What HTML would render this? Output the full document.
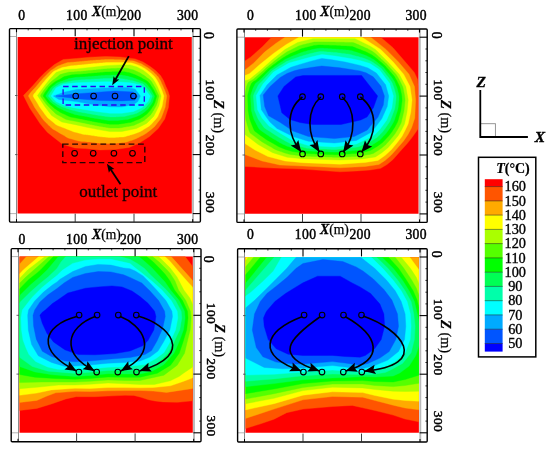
<!DOCTYPE html>
<html lang="en"><head><meta charset="utf-8"><title>Temperature field contours</title>
<style>html,body{margin:0;padding:0;background:#fff}svg{display:block}text{font-family:'Liberation Serif','Times New Roman',Times,serif}</style>
</head><body>
<svg width="550" height="452" viewBox="0 0 550 452">
<rect width="550" height="452" fill="#fff"/>
<g id="panel1">
<clipPath id="clip1"><rect x="17.6" y="37" width="174.2" height="176.4"/></clipPath>
<g clip-path="url(#clip1)" shape-rendering="geometricPrecision">
<rect x="16.6" y="36" width="176.2" height="178.4" fill="#ff0000"/>
<polygon points="23.5,95.5 33,85.5 40,77.6 45.5,72 54.5,64.5 63.3,59.5 76.4,58.5 90,57.2 105.5,56.5 120,57 135.2,58.9 143,62 149.8,66.2 155.5,70.5 160.5,75.5 163.5,80.5 165.8,86.2 168,91 169.5,96.1 168.4,107.5 164.7,119.1 158.2,128.5 149.5,136.5 139.3,143.1 129.1,147.5 114.5,149.6 100,149.9 85.5,148.6 75,148 62.6,144.3 54.5,138 47.3,132.2 40,123.5 29.8,108.1" fill="#ff5500" stroke="#ff5500" stroke-width="0.4"/>
<polygon points="166.7,96 166.5,97.6 166.3,99.2 166.1,100.8 165.9,102.4 165.6,104 165.4,105.6 165.2,107.2 164.6,108.7 164.1,110.2 163.5,111.7 163,113.2 162.4,114.7 161.9,116.1 161.3,117.6 160.5,119 159.5,120.3 158.5,121.5 157.5,122.8 156.6,124 155.6,125.2 154.7,126.4 153.5,127.5 152.3,128.5 151.1,129.5 149.9,130.4 148.7,131.4 147.5,132.3 146.3,133.2 145,134 143.8,134.8 142.5,135.5 141.1,136.1 139.8,136.8 138.6,137.4 137.3,138.1 136,138.7 134.7,139.2 133.4,139.7 132.1,140.2 130.8,140.6 129.5,141.1 128.2,141.6 127,142 125.6,142.3 124.2,142.4 122.9,142.6 121.5,142.7 120.2,142.9 118.9,143 117.6,143.1 116.4,143.3 115.1,143.4 113.8,143.6 112.5,143.6 111.3,143.6 110,143.6 108.7,143.5 107.5,143.5 106.2,143.5 105,143.4 103.8,143.4 102.5,143.4 101.3,143.4 100,143.3 98.8,143.1 97.6,143 96.3,142.9 95.1,142.7 93.8,142.6 92.6,142.4 91.3,142.3 90,142.1 88.7,142 87.4,141.9 86.1,141.7 84.7,141.6 83.3,141.5 81.9,141.4 80.4,141.2 79,141.1 77.6,140.7 76.2,140.3 74.8,139.9 73.4,139.5 71.9,139.1 70.4,138.7 68.9,138.3 67.5,137.7 66.2,136.9 64.9,136.1 63.6,135.3 62.2,134.5 60.8,133.7 59.4,132.9 58,132 56.6,131.2 55.1,130.3 53.5,129.4 52,128.5 50.8,127.3 49.5,126.1 48.3,124.9 47.1,123.6 45.8,122.4 44.5,121.1 43.3,119.7 42.1,118.3 41.1,116.8 40.1,115.2 39,113.7 37.9,112.1 36.8,110.5 35.7,108.9 34.5,107.2 33.6,105.4 32.6,103.6 31.6,101.8 30.6,99.9 29.5,98 28.4,96 29.5,94 31.1,92.1 32.7,90.3 34.3,88.6 35.8,86.9 37.2,85.3 38.5,83.7 39.8,82.1 41.1,80.7 42.3,79.2 43.6,77.8 44.9,76.5 46.2,75.2 47.4,73.9 48.6,72.7 49.9,71.5 51.2,70.3 52.7,69.4 54.2,68.4 55.6,67.5 57,66.6 58.5,65.8 60.2,65.2 61.8,64.6 63.3,64 64.8,63.5 66.3,62.9 67.9,62.6 69.7,62.5 71.3,62.3 72.9,62.2 74.5,62.1 75.9,61.9 77.3,61.8 78.7,61.7 80,61.6 81.3,61.5 82.5,61.3 83.7,61.2 84.9,61.1 86,61 87.1,60.9 88.2,60.8 89.3,60.7 90.3,60.6 91.4,60.5 92.4,60.4 93.4,60.3 94.4,60.3 95.4,60.2 96.4,60.1 97.4,60.1 98.3,60 99.3,60 100.2,59.9 101.2,59.8 102.1,59.8 103.1,59.7 104,59.7 105,59.6 106,59.6 106.9,59.6 107.9,59.6 108.8,59.6 109.8,59.6 110.8,59.6 111.7,59.6 112.7,59.6 113.7,59.6 114.7,59.7 115.8,59.7 116.8,59.7 117.9,59.7 118.9,59.7 120,59.8 121.1,59.8 122.2,59.9 123.3,60 124.5,60.1 125.7,60.2 126.9,60.3 128.1,60.4 129.4,60.5 130.7,60.7 132,60.8 133.4,60.9 134.6,61.3 135.8,61.8 137.1,62.2 138.3,62.7 139.6,63.2 140.9,63.6 142.1,64.3 143.3,65 144.5,65.7 145.7,66.4 147,67.2 148.2,68 149.3,68.8 150.5,69.7 151.7,70.7 152.9,71.6 154,72.6 155.1,73.7 156.2,74.8 157.3,75.9 158.3,77.1 159.1,78.4 159.9,79.7 160.7,81.1 161.3,82.5 161.9,83.9 162.6,85.3 163.2,86.8 163.8,88.3 164.5,89.7 165.1,91.3 165.6,92.8 166.2,94.4" fill="#ffaa00" stroke="#ffaa00" stroke-width="0.4"/>
<polygon points="163.9,96 163.6,97.5 163.4,99.1 163.1,100.6 162.8,102.1 162.6,103.6 162.3,105.1 162,106.6 161.4,108 160.8,109.4 160.2,110.8 159.6,112.2 159,113.6 158.4,114.9 157.9,116.3 157.1,117.6 156.1,118.8 155.1,119.9 154.1,121 153.2,122.1 152.2,123.2 151.2,124.3 150.2,125.3 149,126.2 147.7,127 146.5,127.8 145.2,128.6 144,129.3 142.9,130.1 141.7,130.8 140.4,131.4 139.2,132 137.9,132.5 136.6,133 135.3,133.4 134.1,133.9 132.8,134.3 131.6,134.7 130.3,135 129.1,135.4 127.9,135.7 126.8,136.1 125.6,136.4 124.4,136.8 123.2,136.9 122,137 120.8,137 119.6,137.1 118.4,137.2 117.2,137.3 116.1,137.3 114.9,137.4 113.8,137.5 112.7,137.6 111.6,137.6 110.5,137.6 109.4,137.5 108.3,137.4 107.2,137.3 106.1,137.2 105,137.1 103.9,137 102.9,136.9 101.8,136.8 100.7,136.7 99.7,136.6 98.6,136.4 97.5,136.3 96.5,136.1 95.4,136 94.3,135.8 93.3,135.6 92.2,135.5 91.1,135.3 90,135.1 88.8,135 87.7,134.8 86.6,134.7 85.4,134.5 84.2,134.4 83,134.2 81.8,133.9 80.6,133.6 79.4,133.3 78.2,132.9 76.9,132.6 75.6,132.3 74.3,132 73,131.5 71.8,131 70.5,130.5 69.2,130 67.9,129.4 66.5,128.9 65.1,128.3 63.6,127.8 62.1,127.2 60.5,126.6 58.9,126 57.2,125.3 55.8,124.4 54.6,123.4 53.3,122.3 52,121.3 50.7,120.2 49.3,119.1 47.9,117.9 46.7,116.6 45.7,115.3 44.7,113.9 43.7,112.4 42.6,111 41.5,109.5 40.4,108 39.3,106.4 38.4,104.8 37.4,103.1 36.4,101.4 35.3,99.7 34.2,97.9 33.1,96 33.9,94.1 35.4,92.4 36.7,90.6 38.1,89 39.4,87.4 40.7,85.8 41.9,84.3 43.1,82.8 44.3,81.4 45.4,80 46.6,78.7 47.8,77.4 49,76.2 50.1,74.9 51.3,73.7 52.4,72.6 53.6,71.5 55.2,70.6 56.9,69.9 58.5,69.1 60,68.4 61.5,67.8 63.3,67.3 65.1,67 66.8,66.7 68.4,66.3 69.9,66 71.5,65.8 73.1,65.7 74.5,65.5 76,65.4 77.3,65.3 78.7,65.1 79.9,65 81.1,64.9 82.3,64.8 83.5,64.7 84.6,64.6 85.7,64.4 86.7,64.3 87.7,64.2 88.8,64.1 89.7,64 90.7,63.9 91.7,63.8 92.6,63.7 93.5,63.6 94.5,63.6 95.4,63.5 96.3,63.4 97.2,63.3 98,63.3 98.9,63.2 99.8,63.1 100.7,63 101.5,63 102.4,62.9 103.3,62.8 104.1,62.8 105,62.7 105.9,62.6 106.7,62.6 107.6,62.6 108.5,62.6 109.4,62.6 110.3,62.5 111.2,62.5 112.1,62.5 113,62.5 114,62.5 114.9,62.4 115.9,62.4 116.9,62.4 117.9,62.4 118.9,62.4 120,62.4 121,62.4 122.1,62.5 123.2,62.5 124.3,62.6 125.5,62.6 126.6,62.7 127.9,62.7 129.1,62.8 130.4,62.8 131.8,62.9 132.9,63.3 134.1,63.7 135.3,64.1 136.5,64.5 137.8,64.9 139,65.4 140.2,66 141.3,66.6 142.5,67.2 143.7,67.9 144.9,68.6 146,69.4 147.1,70.2 148.2,71.1 149.3,71.9 150.5,72.8 151.5,73.8 152.6,74.8 153.7,75.8 154.8,76.9 155.6,78.1 156.4,79.3 157.2,80.5 157.9,81.8 158.6,83.1 159.2,84.5 159.9,85.8 160.5,87.2 161.1,88.6 161.7,90 162.3,91.5 162.8,93 163.3,94.5" fill="#ffff00" stroke="#ffff00" stroke-width="0.4"/>
<polygon points="37.5,95.5 42.5,88.5 48.7,80.5 56,72.5 64.7,69.6 76.4,68.9 105.5,65.7 120,64.9 129.9,64.9 137,67 143.2,70.2 148,74 152.5,78.2 155.5,83 157.8,87.5 161.1,96.1 158.9,106 153.8,116.2 146.5,123.5 136.4,128.5 121.8,131.5 110,131.6 98.2,129.6 87,127.3 76.4,124.9 61.8,122 51.6,115.5 44.4,106" fill="#aaff00" stroke="#aaff00" stroke-width="0.4"/>
<polygon points="158.9,96 158.6,97.4 158.2,98.8 157.9,100.2 157.6,101.5 157.2,102.9 156.8,104.2 156.3,105.5 155.6,106.8 154.9,108 154.2,109.2 153.6,110.4 152.8,111.5 152.1,112.7 151.3,113.8 150.6,114.9 149.5,115.8 148.5,116.7 147.5,117.6 146.5,118.5 145.4,119.3 144.4,120.2 143.4,120.9 142.2,121.6 141,122.1 139.8,122.7 138.6,123.2 137.4,123.7 136.3,124.2 135.2,124.7 134.2,125.2 133,125.5 131.8,125.8 130.6,126 129.4,126.2 128.3,126.4 127.2,126.6 126.1,126.8 125.1,127 124.1,127.1 123.1,127.3 122.1,127.5 121.1,127.7 120.2,127.8 119.2,127.9 118.2,127.9 117.2,127.9 116.3,127.9 115.4,127.9 114.4,127.9 113.5,127.9 112.7,127.9 111.8,127.9 110.9,127.9 110,127.9 109.2,127.8 108.3,127.7 107.5,127.5 106.6,127.4 105.8,127.3 105,127.1 104.2,127 103.4,126.9 102.6,126.7 101.8,126.6 101,126.5 100.2,126.3 99.4,126.2 98.6,126.1 97.8,125.9 97,125.8 96.2,125.6 95.4,125.4 94.6,125.3 93.8,125.1 93,125 92.2,124.8 91.3,124.6 90.5,124.5 89.6,124.3 88.8,124.1 87.9,123.9 87,123.7 86.1,123.5 85.1,123.3 84.2,123.1 83.2,122.9 82.2,122.7 81.2,122.5 80.1,122.2 79,122 77.8,121.8 76.6,121.5 75.4,121.3 74.1,121 72.7,120.8 71.3,120.5 69.8,120.2 68.2,119.9 66.5,119.6 65.2,119 63.9,118.3 62.6,117.6 61.3,116.8 59.9,116.1 58.4,115.3 56.9,114.5 55.5,113.5 54.4,112.4 53.3,111.3 52.1,110.2 50.8,109 49.6,107.8 48.4,106.5 47.2,105.2 46,103.8 44.9,102.3 43.8,100.8 42.7,99.3 41.6,97.7 40.5,96 41.1,94.3 42.2,92.7 43.3,91.1 44.4,89.6 45.4,88.2 46.5,86.7 47.7,85.4 49,84.1 50.1,82.8 51.3,81.6 52.6,80.5 54,79.4 55.3,78.4 56.6,77.4 57.8,76.5 59,75.5 60.1,74.6 61.9,74.1 63.7,73.6 65.3,73.1 66.9,72.7 68.4,72.2 70.2,72.1 71.9,72 73.6,71.9 75.1,71.8 76.6,71.7 77.9,71.6 79.2,71.6 80.4,71.4 81.6,71.3 82.7,71.2 83.7,71.1 84.8,71 85.7,70.9 86.7,70.8 87.6,70.7 88.5,70.6 89.4,70.5 90.2,70.4 91.1,70.4 91.9,70.3 92.7,70.2 93.5,70.1 94.2,70 95,70 95.8,69.9 96.5,69.8 97.2,69.7 97.9,69.7 98.7,69.6 99.4,69.5 100.1,69.4 100.8,69.4 101.5,69.3 102.2,69.2 102.9,69.2 103.6,69.1 104.3,69 105,68.9 105.7,68.9 106.4,68.9 107.1,68.8 107.9,68.8 108.6,68.8 109.3,68.7 110.1,68.7 110.8,68.6 111.6,68.6 112.3,68.6 113.1,68.5 113.9,68.5 114.8,68.5 115.6,68.4 116.4,68.4 117.3,68.3 118.2,68.3 119.1,68.3 120,68.3 121,68.3 122,68.3 123,68.3 124,68.3 125.1,68.3 126.3,68.3 127.4,68.4 128.4,68.6 129.4,68.9 130.5,69.2 131.6,69.4 132.7,69.7 133.8,70.1 134.8,70.5 135.9,71 137,71.5 138.1,72 139.2,72.5 140.3,73.1 141.3,73.8 142.4,74.4 143.5,75.1 144.6,75.8 145.6,76.6 146.7,77.4 147.8,78.3 149,79.1 150,80.1 151,81.1 151.8,82.1 152.5,83.3 153.3,84.4 153.9,85.6 154.6,86.8 155.3,88 155.9,89.3 156.5,90.6 157.1,91.9 157.7,93.2 158.3,94.6" fill="#55ff00" stroke="#55ff00" stroke-width="0.4"/>
<polygon points="156.7,96 156.4,97.3 156,98.7 155.6,100 155.3,101.3 154.9,102.6 154.3,103.8 153.8,105 153,106.2 152.2,107.3 151.5,108.5 150.8,109.6 150,110.6 149.1,111.6 148.2,112.6 147.4,113.5 146.3,114.4 145.2,115.2 144.2,116 143.2,116.8 142.1,117.4 141,118.1 140,118.7 138.8,119.3 137.6,119.7 136.5,120.1 135.3,120.6 134.3,121 133.2,121.4 132.2,121.8 131.2,122.2 130.1,122.5 129,122.6 127.9,122.8 126.8,123 125.8,123.1 124.8,123.3 123.8,123.4 122.9,123.5 122,123.7 121.1,123.8 120.2,123.9 119.3,124.1 118.5,124.2 117.6,124.2 116.7,124.2 115.8,124.2 115,124.2 114.2,124.2 113.4,124.3 112.6,124.2 111.8,124.2 111,124.2 110.2,124.2 109.5,124.2 108.7,124.1 107.9,124 107.2,123.9 106.5,123.7 105.7,123.6 105,123.5 104.3,123.4 103.6,123.3 102.9,123.2 102.2,123.1 101.5,123 100.7,122.8 100,122.7 99.3,122.6 98.6,122.5 97.9,122.3 97.2,122.2 96.5,122.1 95.8,122 95.1,121.8 94.4,121.7 93.6,121.5 92.9,121.4 92.1,121.3 91.4,121.1 90.6,121 89.8,120.8 89,120.6 88.2,120.5 87.4,120.3 86.5,120.1 85.6,119.9 84.7,119.7 83.8,119.5 82.9,119.3 81.9,119.1 80.8,118.9 79.8,118.7 78.6,118.5 77.5,118.3 76.2,118.1 75,117.8 73.6,117.6 72.2,117.3 70.7,117 69.4,116.5 68.2,116 67,115.4 65.6,114.8 64.2,114.1 62.8,113.5 61.3,112.8 59.8,112 58.6,111.1 57.2,110.2 55.8,109.2 54.3,108.2 53,107.1 51.7,105.9 50.3,104.7 48.9,103.4 47.6,102 46.5,100.6 45.4,99.1 44.3,97.6 43.1,96 43.8,94.4 44.8,92.8 45.9,91.3 46.9,89.9 47.9,88.5 48.9,87.1 50.2,85.8 51.6,84.6 52.8,83.5 54.1,82.4 55.6,81.4 57.3,80.5 58.9,79.7 60.4,78.9 61.8,78.1 63.1,77.3 64.4,76.6 66.1,76.2 67.8,75.8 69.4,75.5 70.9,75.1 72.3,74.8 73.9,74.7 75.5,74.6 77,74.5 78.4,74.4 79.7,74.4 80.9,74.3 82.1,74.2 83.1,74.1 84.2,74 85.1,73.9 86.1,73.9 87,73.8 87.9,73.7 88.7,73.6 89.6,73.5 90.4,73.5 91.2,73.4 91.9,73.3 92.7,73.3 93.4,73.2 94.1,73.1 94.8,73.1 95.5,73 96.2,72.9 96.8,72.9 97.5,72.8 98.1,72.8 98.8,72.7 99.4,72.7 100,72.6 100.7,72.5 101.3,72.5 101.9,72.4 102.5,72.4 103.1,72.3 103.8,72.3 104.4,72.2 105,72.1 105.6,72.1 106.3,72.1 106.9,72 107.5,72 108.2,72 108.8,72 109.5,71.9 110.1,71.9 110.8,71.9 111.5,71.9 112.2,71.8 112.9,71.8 113.6,71.8 114.3,71.8 115.1,71.7 115.8,71.7 116.6,71.7 117.4,71.7 118.2,71.7 119,71.7 119.9,71.7 120.8,71.7 121.7,71.7 122.7,71.7 123.6,71.7 124.6,71.8 125.5,72 126.5,72.2 127.4,72.4 128.4,72.6 129.4,72.8 130.5,73.1 131.4,73.4 132.4,73.8 133.5,74.2 134.5,74.6 135.6,75 136.7,75.4 137.7,76 138.8,76.5 139.9,77 141.1,77.6 142.2,78.3 143.3,78.9 144.5,79.6 145.8,80.3 147,81.1 148.2,82 149.1,82.9 149.9,84 150.6,85.1 151.3,86.2 152.1,87.3 152.8,88.4 153.5,89.6 154.1,90.8 154.7,92.1 155.4,93.4 156,94.7" fill="#00ff00" stroke="#00ff00" stroke-width="0.4"/>
<polygon points="154.5,96 154.2,97.3 153.8,98.6 153.4,99.8 153,101 152.6,102.3 151.9,103.4 151.2,104.6 150.4,105.6 149.6,106.7 148.8,107.7 148.1,108.8 147.1,109.7 146.1,110.6 145.1,111.4 144.2,112.2 143.1,112.9 142,113.7 141,114.3 140,115 138.8,115.5 137.7,116 136.6,116.5 135.4,116.9 134.3,117.3 133.2,117.6 132.1,118 131.1,118.3 130.1,118.6 129.1,118.9 128.2,119.2 127.2,119.4 126.2,119.5 125.2,119.6 124.2,119.7 123.3,119.8 122.4,119.9 121.5,120 120.7,120.1 119.8,120.2 119,120.3 118.2,120.4 117.5,120.5 116.7,120.6 115.9,120.6 115.2,120.6 114.4,120.6 113.7,120.6 113,120.6 112.3,120.6 111.6,120.6 110.9,120.5 110.2,120.5 109.5,120.5 108.9,120.4 108.2,120.4 107.6,120.3 106.9,120.2 106.3,120.1 105.6,120 105,119.9 104.4,119.8 103.8,119.7 103.1,119.6 102.5,119.5 101.9,119.4 101.3,119.3 100.7,119.2 100.1,119.1 99.5,119 98.9,118.9 98.2,118.8 97.6,118.7 97,118.6 96.4,118.5 95.7,118.4 95.1,118.3 94.4,118.2 93.8,118 93.1,117.9 92.4,117.8 91.7,117.7 91,117.5 90.3,117.4 89.6,117.2 88.8,117.1 88.1,116.9 87.3,116.8 86.4,116.6 85.6,116.4 84.7,116.3 83.8,116.1 82.9,115.9 81.9,115.8 80.8,115.6 79.8,115.4 78.6,115.2 77.4,114.9 76.2,114.7 74.9,114.5 73.7,114.1 72.5,113.6 71.3,113.2 70,112.7 68.6,112.2 67.1,111.7 65.6,111.1 64.1,110.5 62.7,109.7 61.2,109 59.5,108.2 57.7,107.3 56.3,106.3 54.9,105.3 53.3,104.2 51.7,103 50.2,101.8 49.2,100.4 48.1,99 46.9,97.5 45.7,96 46.5,94.5 47.5,93 48.4,91.5 49.4,90.2 50.3,88.8 51.2,87.5 52.7,86.3 54.2,85.2 55.6,84.1 56.9,83.1 58.6,82.3 60.6,81.6 62.5,80.9 64.2,80.3 65.7,79.7 67.2,79.2 68.6,78.6 70.3,78.3 72,78.1 73.5,77.8 74.9,77.6 76.3,77.3 77.7,77.2 79.1,77.2 80.4,77.1 81.6,77 82.7,77 83.8,76.9 84.9,76.9 85.8,76.8 86.7,76.7 87.6,76.7 88.4,76.6 89.3,76.6 90,76.5 90.8,76.4 91.5,76.4 92.2,76.3 92.9,76.3 93.6,76.2 94.2,76.2 94.9,76.1 95.5,76.1 96.1,76 96.7,76 97.3,75.9 97.9,75.9 98.5,75.8 99,75.8 99.6,75.8 100.1,75.7 100.7,75.7 101.2,75.6 101.8,75.6 102.3,75.5 102.8,75.5 103.4,75.5 103.9,75.4 104.5,75.4 105,75.3 105.5,75.3 106.1,75.3 106.6,75.3 107.2,75.3 107.7,75.2 108.3,75.2 108.9,75.2 109.4,75.2 110,75.2 110.6,75.2 111.2,75.2 111.8,75.1 112.4,75.1 113,75.1 113.7,75.1 114.3,75.1 115,75.1 115.7,75.1 116.4,75.1 117.1,75.1 117.8,75.1 118.6,75.1 119.4,75.1 120.2,75.1 121,75.1 121.9,75.1 122.7,75.3 123.5,75.4 124.4,75.6 125.3,75.7 126.2,75.9 127.2,76.1 128.1,76.3 129,76.6 129.9,76.9 131,77.1 132,77.4 133.1,77.8 134.1,78.2 135.2,78.5 136.4,78.9 137.6,79.4 138.8,79.9 140,80.4 141.3,81 142.6,81.6 144,82.2 145.4,82.9 146.4,83.7 147.2,84.7 148,85.7 148.7,86.7 149.5,87.7 150.3,88.8 151.1,89.9 151.7,91.1 152.4,92.3 153.1,93.5 153.8,94.7" fill="#00ff55" stroke="#00ff55" stroke-width="0.4"/>
<polygon points="152.3,96 152,97.2 151.5,98.4 151.1,99.6 150.7,100.8 150.3,102 149.4,103 148.6,104.1 147.7,105.1 146.9,106.1 146.1,107 145.3,107.9 144.3,108.8 143.1,109.5 142,110.2 140.9,110.9 139.8,111.5 138.8,112.1 137.7,112.7 136.8,113.2 135.5,113.6 134.3,114 133.2,114.3 132,114.6 130.9,114.8 129.9,115.1 128.9,115.3 127.9,115.6 127,115.8 126.1,116 125.2,116.2 124.3,116.4 123.4,116.4 122.5,116.5 121.6,116.5 120.8,116.6 120,116.6 119.2,116.7 118.5,116.7 117.7,116.8 117,116.8 116.3,116.8 115.6,116.9 115,116.9 114.3,116.9 113.7,116.9 113,116.9 112.4,116.9 111.8,116.9 111.2,117 110.6,116.9 110,116.9 109.4,116.8 108.8,116.8 108.3,116.7 107.7,116.7 107.2,116.6 106.6,116.5 106.1,116.4 105.5,116.4 105,116.3 104.5,116.2 103.9,116.1 103.4,116.1 102.9,116 102.4,115.9 101.9,115.8 101.3,115.8 100.8,115.7 100.3,115.6 99.8,115.5 99.2,115.4 98.7,115.4 98.2,115.3 97.6,115.2 97.1,115.1 96.5,115 96,114.9 95.4,114.8 94.8,114.7 94.2,114.6 93.7,114.5 93,114.4 92.4,114.3 91.8,114.2 91.1,114.1 90.5,113.9 89.8,113.8 89.1,113.7 88.3,113.5 87.6,113.4 86.8,113.3 86,113.1 85.1,113 84.2,112.8 83.3,112.7 82.3,112.5 81.3,112.3 80.2,112.1 79,111.9 77.9,111.6 76.8,111.3 75.6,111 74.3,110.6 72.9,110.3 71.5,109.9 70,109.4 68.4,108.9 66.9,108.4 65.1,107.8 63.3,107.2 61.2,106.5 59.7,105.6 58.1,104.7 56.4,103.7 54.6,102.6 52.9,101.5 51.9,100.2 50.7,98.8 49.6,97.5 48.4,96 49.2,94.5 50.1,93.1 51,91.8 51.9,90.4 52.7,89.1 53.6,87.9 55.2,86.8 56.8,85.7 58.3,84.8 59.7,83.9 61.6,83.2 64,82.7 66.1,82.2 68,81.8 69.7,81.4 71.3,81 72.8,80.7 74.5,80.5 76.1,80.3 77.6,80.2 78.9,80 80.2,79.9 81.5,79.8 82.7,79.8 83.8,79.7 84.8,79.7 85.8,79.6 86.8,79.6 87.7,79.6 88.5,79.5 89.3,79.5 90.1,79.4 90.8,79.4 91.5,79.3 92.2,79.3 92.8,79.3 93.5,79.2 94.1,79.2 94.7,79.1 95.2,79.1 95.8,79.1 96.4,79 96.9,79 97.4,79 97.9,78.9 98.4,78.9 98.9,78.9 99.4,78.9 99.9,78.8 100.4,78.8 100.9,78.8 101.3,78.7 101.8,78.7 102.3,78.7 102.7,78.7 103.2,78.6 103.6,78.6 104.1,78.6 104.5,78.6 105,78.5 105.5,78.5 105.9,78.5 106.4,78.5 106.8,78.5 107.3,78.5 107.8,78.5 108.2,78.5 108.7,78.5 109.2,78.5 109.7,78.5 110.2,78.5 110.7,78.5 111.2,78.5 111.7,78.5 112.3,78.5 112.8,78.4 113.4,78.4 113.9,78.5 114.5,78.5 115.1,78.5 115.7,78.5 116.4,78.5 117,78.5 117.7,78.5 118.4,78.5 119.1,78.5 119.9,78.6 120.6,78.7 121.4,78.8 122.2,78.8 123,78.9 123.8,79 124.7,79.2 125.5,79.4 126.4,79.5 127.4,79.7 128.4,79.9 129.4,80.1 130.5,80.4 131.7,80.6 132.9,80.8 134.1,81.2 135.3,81.5 136.6,81.9 138,82.3 139.4,82.8 141,83.3 142.6,83.8 143.7,84.5 144.5,85.4 145.3,86.3 146.1,87.3 147,88.2 147.8,89.2 148.6,90.3 149.3,91.3 150,92.5 150.8,93.6 151.5,94.8" fill="#00ffaa" stroke="#00ffaa" stroke-width="0.4"/>
<polygon points="51,96 56,88.1 63.3,84.2 76.4,82.7 105.5,81.7 120,82 129.9,82.8 140.5,84.8 145.9,90.2 150.2,96.1 148,101.6 142.2,107.5 133.5,111.5 121.8,113.3 110,113.3 98.2,111.8 87,110 76.4,108.2 64.7,105.7 56,101.6" fill="#00ffff" stroke="#00ffff" stroke-width="0.4"/>
<polygon points="53.4,96 65,92 76.4,89.5 105,88 125,87.4 135,89 140.4,96.1 137.8,101.6 133.5,104.5 121.8,106.9 110,106.8 98.2,105.3 87,103.5 76.4,101.6 58.9,99.5" fill="#00aaff" stroke="#00aaff" stroke-width="0.4"/>
<polygon points="56,96 75,94 95,92.4 115,91 133,92 137.5,96.1 134.9,100.2 121.8,100.9 100,100.5 76.4,98.7" fill="#0055ff" stroke="#0055ff" stroke-width="0.4"/>
</g>
<line x1="16.5" y1="28.6" x2="16.5" y2="222.1" stroke="#8a8a8a" stroke-width="1.0"/>
<line x1="193" y1="28.6" x2="193" y2="222.1" stroke="#b9b9b9" stroke-width="1.9"/>
<line x1="9.5" y1="36.5" x2="16.5" y2="36.5" stroke="#a0a0a0" stroke-width="0.8"/>
<line x1="9.5" y1="213.6" x2="16.5" y2="213.6" stroke="#a0a0a0" stroke-width="0.8"/>
<rect x="9.5" y="28.6" width="190.9" height="193.5" fill="none" stroke="#000" stroke-width="1.4" rx="1"/>
<line x1="16.5" y1="28.6" x2="16.5" y2="32.2" stroke="#000" stroke-width="1.1"/>
<line x1="16.5" y1="222.1" x2="16.5" y2="219.1" stroke="#000" stroke-width="1.0"/>
<line x1="200.4" y1="36.5" x2="192.8" y2="36.5" stroke="#000" stroke-width="1.1"/>
<line x1="28.2" y1="28.6" x2="28.2" y2="30.4" stroke="#000" stroke-width="0.8"/>
<line x1="200.4" y1="48.3" x2="198.6" y2="48.3" stroke="#000" stroke-width="0.8"/>
<line x1="40" y1="28.6" x2="40" y2="30.4" stroke="#000" stroke-width="0.8"/>
<line x1="200.4" y1="60.1" x2="198.6" y2="60.1" stroke="#000" stroke-width="0.8"/>
<line x1="51.7" y1="28.6" x2="51.7" y2="30.4" stroke="#000" stroke-width="0.8"/>
<line x1="200.4" y1="71.9" x2="198.6" y2="71.9" stroke="#000" stroke-width="0.8"/>
<line x1="63.5" y1="28.6" x2="63.5" y2="30.4" stroke="#000" stroke-width="0.8"/>
<line x1="200.4" y1="83.7" x2="198.6" y2="83.7" stroke="#000" stroke-width="0.8"/>
<line x1="75.2" y1="28.6" x2="75.2" y2="36.2" stroke="#000" stroke-width="1.1"/>
<line x1="75.2" y1="222.1" x2="75.2" y2="213.7" stroke="#2a2a2a" stroke-width="0.9"/>
<line x1="200.4" y1="95.5" x2="192.8" y2="95.5" stroke="#000" stroke-width="1.1"/>
<line x1="15" y1="95.5" x2="17.5" y2="95.5" stroke="#444" stroke-width="0.8"/>
<line x1="87" y1="28.6" x2="87" y2="30.4" stroke="#000" stroke-width="0.8"/>
<line x1="200.4" y1="107.3" x2="198.6" y2="107.3" stroke="#000" stroke-width="0.8"/>
<line x1="98.7" y1="28.6" x2="98.7" y2="30.4" stroke="#000" stroke-width="0.8"/>
<line x1="200.4" y1="119.1" x2="198.6" y2="119.1" stroke="#000" stroke-width="0.8"/>
<line x1="110.5" y1="28.6" x2="110.5" y2="30.4" stroke="#000" stroke-width="0.8"/>
<line x1="200.4" y1="131" x2="198.6" y2="131" stroke="#000" stroke-width="0.8"/>
<line x1="122.2" y1="28.6" x2="122.2" y2="30.4" stroke="#000" stroke-width="0.8"/>
<line x1="200.4" y1="142.8" x2="198.6" y2="142.8" stroke="#000" stroke-width="0.8"/>
<line x1="134" y1="28.6" x2="134" y2="36.2" stroke="#000" stroke-width="1.1"/>
<line x1="134" y1="222.1" x2="134" y2="213.7" stroke="#2a2a2a" stroke-width="0.9"/>
<line x1="200.4" y1="154.6" x2="192.8" y2="154.6" stroke="#000" stroke-width="1.1"/>
<line x1="15" y1="154.6" x2="17.5" y2="154.6" stroke="#444" stroke-width="0.8"/>
<line x1="145.7" y1="28.6" x2="145.7" y2="30.4" stroke="#000" stroke-width="0.8"/>
<line x1="200.4" y1="166.4" x2="198.6" y2="166.4" stroke="#000" stroke-width="0.8"/>
<line x1="157.5" y1="28.6" x2="157.5" y2="30.4" stroke="#000" stroke-width="0.8"/>
<line x1="200.4" y1="178.2" x2="198.6" y2="178.2" stroke="#000" stroke-width="0.8"/>
<line x1="169.2" y1="28.6" x2="169.2" y2="30.4" stroke="#000" stroke-width="0.8"/>
<line x1="200.4" y1="190" x2="198.6" y2="190" stroke="#000" stroke-width="0.8"/>
<line x1="181" y1="28.6" x2="181" y2="30.4" stroke="#000" stroke-width="0.8"/>
<line x1="200.4" y1="201.8" x2="198.6" y2="201.8" stroke="#000" stroke-width="0.8"/>
<line x1="192.7" y1="28.6" x2="192.7" y2="32.2" stroke="#000" stroke-width="1.1"/>
<line x1="192.7" y1="222.1" x2="192.7" y2="219.1" stroke="#000" stroke-width="1.0"/>
<line x1="200.4" y1="213.6" x2="192.8" y2="213.6" stroke="#000" stroke-width="1.1"/>
</g>
<g id="panel2">
<clipPath id="clip2"><rect x="245" y="37.2" width="173.6" height="176.5"/></clipPath>
<g clip-path="url(#clip2)" shape-rendering="geometricPrecision">
<rect x="244" y="36.2" width="175.6" height="178.5" fill="#ff0000"/>
<polygon points="232,96 236,75 245,61 250.6,57.2 262.1,47 271.6,37.2 290,27 330,22 365,27 380.7,37.2 393,47.7 403.6,60 409,66.2 414.3,72.4 417.6,79.5 418.2,87 418.2,110 418,129 412,137.5 407.2,143.6 400,151.5 393,159.5 387,164.5 380.7,168.3 370,170 357.3,170.9 340,171.8 302.7,169.1 267.3,167.8 245,166.4 232,160 230,130" fill="#ff5500" stroke="#ff5500" stroke-width="0.4"/>
<polygon points="236,96 238,80 245,69.9 253.2,63.5 264.6,52.1 276.1,43.2 285,37.2 300,30 330,27 355,30 370.8,37.2 386,49.4 398.3,61.8 409,74.2 414.5,86.6 415.6,100 414.8,118 411.6,127.7 408,134.5 403.6,140.9 397.5,148 391.3,155.1 385,160.5 378.9,164.5 365,166.5 340,167.8 302.7,166 280,165 262,161 245,154.5 236,135" fill="#ffaa00" stroke="#ffaa00" stroke-width="0.4"/>
<polygon points="239,96 241,84 245,75.6 249.4,73.7 259.5,64.8 273.5,53.4 286.3,44.5 299,37.2 310,33 330,31 350,33 361.9,37.2 380.7,49.4 393,61.8 403.6,74.2 410,86.6 412,100 410.8,112 408.1,124.1 405,130.5 401.9,136.5 396.5,143.5 391.3,149.8 385,155.5 378,160.4 365,162.5 340,164.2 302.7,162.7 285,161 268,156.5 255,150 245,143.6 239,125" fill="#ffff00" stroke="#ffff00" stroke-width="0.4"/>
<polygon points="242,96 243,86 245,80.7 249.4,79.5 259.5,71.2 272.3,59.7 285,49.5 297.7,42.5 313,38.7 355,38.7 369.8,45.9 375.4,49.4 387.7,61.8 399.2,74.2 405.8,86.6 408.2,100 407,112 404.5,124.1 401.5,130 398.3,135.6 393,142 387.7,148 381.5,153 375.4,156.9 362,159 340,160 302.7,158.7 287.3,157.3 272.7,152.7 258.2,144.5 245,134.5 242,120" fill="#aaff00" stroke="#aaff00" stroke-width="0.4"/>
<polygon points="405.1,100 404.9,102 404.7,103.9 404.5,105.9 404.3,107.8 404.1,109.8 403.8,111.7 403.3,113.6 402.9,115.5 402.4,117.4 401.9,119.3 401.5,121.2 401,123.1 400.1,124.8 399.2,126.6 398.3,128.3 397.3,130 396.3,131.6 395.3,133.3 394.2,134.8 393,136.3 391.7,137.8 390.5,139.3 389.2,140.7 388,142.1 386.7,143.5 385.4,144.9 384,146.1 382.5,147.3 381,148.4 379.5,149.5 378,150.6 376.4,151.5 374.8,152.5 373.3,153.4 371.4,154 369.5,154.4 367.6,154.7 365.8,155.1 364,155.5 362.2,155.8 360.4,156.1 358.6,156.2 356.8,156.3 355.1,156.4 353.4,156.5 351.7,156.6 350.1,156.7 348.4,156.8 346.8,156.9 345.3,157 343.7,157.1 342.1,157.2 340.6,157.2 339.1,157.3 337.5,157.3 336,157.3 334.5,157.2 333,157.2 331.5,157.1 330,157.1 328.5,157 327,157 325.5,156.9 324,156.8 322.5,156.8 321,156.7 319.5,156.7 318,156.6 316.4,156.6 314.9,156.5 313.3,156.4 311.7,156.4 310.1,156.3 308.4,156.3 306.7,156.2 305,156.1 303.3,156 301.6,155.8 299.8,155.6 298,155.4 296.2,155.2 294.3,154.9 292.4,154.7 290.4,154.4 288.5,154 286.7,153.5 284.8,152.9 282.9,152.3 281,151.6 279.1,150.9 277.1,150.2 275.2,149.4 273.4,148.4 271.6,147.3 269.7,146.3 267.8,145.2 265.9,144.1 263.9,142.9 261.9,141.7 260.1,140.4 258.2,139 256.2,137.6 254.3,136.1 252.2,134.6 250.2,133.1 249.2,131 248.5,128.8 247.9,126.7 247.2,124.5 246.6,122.3 246,120.2 245.7,117.9 245.5,115.7 245.3,113.4 245.1,111.2 245.1,108.9 245,106.7 245,104.5 245,102.2 244.9,100 244.9,97.8 244.9,95.5 245.2,93.3 245.6,91.1 246,88.9 246.4,86.8 247.2,84.7 248.1,82.6 250.3,80.9 253.2,79.4 255.1,77.8 256.9,76.2 258.6,74.7 260.3,73.3 262,71.8 263.5,70.4 265,69 266.5,67.6 268,66.4 269.6,65.1 271,63.9 272.5,62.7 273.9,61.5 275.4,60.3 276.8,59.2 278.3,58.1 279.7,57 281.1,56 282.6,55 284,54 285.4,53 286.8,52 288.3,51.2 289.9,50.5 291.4,49.7 292.9,48.9 294.4,48.2 295.9,47.5 297.3,46.7 298.8,46 300.4,45.4 302,45 303.6,44.6 305.2,44.2 306.7,43.8 308.3,43.4 309.8,43.1 311.4,42.7 312.9,42.3 314.5,42 316.1,42 317.7,41.9 319.2,41.9 320.8,41.9 322.4,41.9 323.9,41.9 325.4,42 327,42 328.5,42 330,42 331.5,42.1 333,42.1 334.6,42.1 336.1,42.2 337.6,42.2 339.2,42.2 340.7,42.3 342.3,42.3 343.8,42.3 345.4,42.4 347.1,42.4 348.7,42.5 350.4,42.5 352.1,42.5 353.7,42.7 355.2,43.3 356.7,44 358.2,44.6 359.7,45.3 361.2,46 362.7,46.6 364.2,47.3 365.8,48 367.3,48.6 368.8,49.4 370.3,50.2 371.8,51.1 373.3,52 374.6,53 375.9,54.1 377.2,55.2 378.5,56.4 379.7,57.5 381,58.7 382.2,59.9 383.5,61.1 384.8,62.3 386.1,63.6 387.4,64.8 388.6,66.2 389.8,67.5 391,68.9 392.3,70.3 393.5,71.7 394.8,73.1 396.1,74.6 397.2,76.2 398.2,77.9 399.1,79.5 400,81.2 400.9,83 401.7,84.8 402.6,86.5 403.2,88.4 403.5,90.3 403.9,92.2 404.3,94.2 404.6,96.1 404.9,98" fill="#55ff00" stroke="#55ff00" stroke-width="0.4"/>
<polygon points="402.1,100 401.9,101.9 401.6,103.8 401.4,105.6 401.2,107.5 401,109.3 400.6,111.2 400.1,113 399.6,114.8 399.1,116.6 398.6,118.4 398.1,120.2 397.5,121.9 396.7,123.6 395.8,125.3 394.9,126.9 393.9,128.5 392.9,130 392,131.6 390.9,133.1 389.8,134.5 388.6,135.9 387.4,137.3 386.2,138.6 384.9,139.9 383.7,141.2 382.5,142.5 381.1,143.6 379.6,144.7 378.1,145.7 376.7,146.7 375.2,147.6 373.7,148.5 372.2,149.4 370.7,150.3 369,150.8 367.3,151.3 365.5,151.7 363.9,152.1 362.2,152.6 360.5,152.9 358.8,153.1 357.1,153.3 355.5,153.4 353.8,153.5 352.2,153.6 350.6,153.7 349.1,153.9 347.5,154 346,154.1 344.5,154.2 343,154.3 341.6,154.4 340.1,154.5 338.7,154.6 337.2,154.7 335.7,154.7 334.3,154.7 332.9,154.6 331.4,154.6 330,154.5 328.6,154.4 327.2,154.4 325.7,154.3 324.3,154.3 322.9,154.2 321.4,154.1 320,154.1 318.5,154 317,154 315.6,153.9 314.1,153.8 312.5,153.8 311,153.7 309.4,153.6 307.8,153.6 306.2,153.5 304.5,153.4 302.9,153.1 301.3,152.9 299.6,152.6 297.9,152.3 296.2,152.1 294.4,151.8 292.6,151.5 290.8,151.1 289.1,150.5 287.3,150 285.5,149.4 283.7,148.7 282,148 280.1,147.3 278.4,146.5 276.7,145.5 275,144.5 273.3,143.5 271.5,142.5 269.7,141.5 267.8,140.4 265.9,139.3 264.2,138 262.4,136.7 260.5,135.4 258.6,134 256.7,132.6 254.8,131.2 253.7,129.3 252.9,127.3 252.1,125.3 251.3,123.3 250.5,121.3 249.8,119.3 249.3,117.1 248.9,115 248.6,112.9 248.2,110.8 248.1,108.6 248.1,106.4 248,104.3 247.9,102.1 247.8,100 247.8,97.8 247.7,95.7 248.1,93.6 248.7,91.5 249.3,89.4 249.8,87.3 250.7,85.3 251.6,83.3 253.5,81.6 256,80.2 257.7,78.6 259.4,77.1 261,75.6 262.6,74.1 264.1,72.7 265.5,71.3 266.9,69.9 268.4,68.6 270,67.4 271.5,66.2 273,65.1 274.5,64 276,62.9 277.4,61.8 278.9,60.8 280.3,59.7 281.7,58.7 283.1,57.7 284.6,56.9 286,56 287.5,55.2 288.9,54.4 290.4,53.6 291.9,53 293.4,52.3 294.9,51.7 296.3,51 297.8,50.4 299.2,49.7 300.6,49.1 302.1,48.6 303.6,48.2 305.1,47.8 306.6,47.4 308.1,47.1 309.5,46.7 311,46.3 312.5,46 313.9,45.6 315.4,45.4 316.9,45.3 318.3,45.1 319.8,45 321.3,45.1 322.8,45.1 324.2,45.2 325.7,45.2 327.1,45.3 328.6,45.3 330,45.4 331.4,45.4 332.9,45.5 334.3,45.6 335.7,45.6 337.2,45.7 338.6,45.7 340,45.8 341.5,45.9 343,46 344.5,46.1 346,46.1 347.5,46.2 349,46.3 350.6,46.4 352.1,46.5 353.6,47.1 355,47.6 356.4,48.2 357.8,48.7 359.3,49.3 360.7,49.8 362.2,50.4 363.7,51 365.2,51.5 366.7,52.2 368.1,52.9 369.6,53.7 371,54.4 372.4,55.3 373.7,56.3 375.1,57.2 376.4,58.2 377.7,59.3 378.9,60.4 380.2,61.5 381.5,62.6 382.8,63.7 384.1,64.9 385.4,66.1 386.5,67.4 387.6,68.7 388.8,70 390,71.4 391.2,72.8 392.4,74.2 393.6,75.6 394.7,77.1 395.6,78.7 396.6,80.3 397.4,81.9 398.2,83.6 399,85.3 399.8,87.1 400.3,88.9 400.7,90.7 401.1,92.5 401.5,94.4 401.8,96.2 401.9,98.1" fill="#00ff00" stroke="#00ff00" stroke-width="0.4"/>
<polygon points="399,100 398.8,101.8 398.6,103.6 398.4,105.4 398.2,107.2 397.9,108.9 397.4,110.7 396.9,112.4 396.3,114.1 395.8,115.8 395.2,117.5 394.7,119.2 394.1,120.8 393.3,122.4 392.4,124 391.5,125.5 390.5,127 389.6,128.4 388.6,129.9 387.6,131.3 386.6,132.7 385.5,134 384.3,135.3 383.1,136.5 381.9,137.7 380.8,139 379.6,140.2 378.2,141.1 376.7,142 375.3,142.9 373.8,143.8 372.4,144.7 371,145.5 369.5,146.3 368.1,147.1 366.6,147.7 365,148.2 363.4,148.7 361.9,149.2 360.4,149.6 358.8,150 357.3,150.2 355.6,150.3 354.1,150.5 352.5,150.6 351,150.8 349.5,150.9 348.1,151 346.6,151.2 345.2,151.3 343.8,151.4 342.4,151.6 341,151.7 339.6,151.8 338.2,152 336.9,152 335.5,152.1 334.1,152.1 332.7,152 331.4,152 330,151.9 328.6,151.9 327.3,151.8 325.9,151.7 324.6,151.7 323.2,151.6 321.8,151.5 320.5,151.5 319.1,151.4 317.7,151.4 316.3,151.3 314.8,151.2 313.4,151.2 311.9,151.1 310.4,151 308.9,151 307.3,150.9 305.8,150.8 304.3,150.5 302.8,150.2 301.2,149.9 299.6,149.5 298,149.2 296.4,148.9 294.7,148.6 293.1,148.1 291.4,147.6 289.8,147.1 288.1,146.6 286.5,145.9 284.9,145.1 283.2,144.4 281.6,143.6 280,142.7 278.4,141.8 276.8,140.8 275.2,139.8 273.5,138.9 271.7,137.8 270,136.8 268.3,135.6 266.6,134.4 264.8,133.2 263,131.9 261.2,130.7 259.4,129.3 258.2,127.5 257.3,125.7 256.3,123.9 255.4,122.1 254.4,120.3 253.6,118.3 253,116.4 252.4,114.4 251.9,112.4 251.3,110.4 251.2,108.3 251.1,106.2 251,104.1 250.9,102.1 250.8,100 250.7,97.9 250.6,95.8 251.1,93.8 251.8,91.8 252.5,89.8 253.2,87.8 254.2,85.9 255.1,84.1 256.7,82.4 258.8,80.9 260.4,79.4 261.9,77.9 263.4,76.4 264.8,75 266.3,73.6 267.6,72.2 268.9,70.9 270.4,69.6 272,68.5 273.5,67.4 275,66.3 276.5,65.3 278,64.2 279.4,63.3 280.9,62.3 282.3,61.4 283.7,60.4 285,59.5 286.6,58.8 288.1,58.1 289.5,57.4 291,56.7 292.5,56.1 294,55.5 295.4,54.9 296.8,54.4 298.3,53.8 299.6,53.3 301,52.7 302.4,52.2 303.8,51.7 305.2,51.4 306.6,51 308,50.6 309.4,50.3 310.8,50 312.2,49.6 313.5,49.3 314.9,49 316.3,48.7 317.6,48.5 319,48.4 320.4,48.2 321.8,48.2 323.2,48.3 324.6,48.4 325.9,48.5 327.3,48.6 328.7,48.7 330,48.7 331.3,48.8 332.7,48.9 334,49 335.4,49.1 336.7,49.2 338,49.3 339.4,49.4 340.7,49.5 342.1,49.6 343.5,49.7 344.9,49.8 346.3,50 347.7,50.1 349.1,50.2 350.6,50.4 351.9,50.8 353.3,51.2 354.6,51.7 356,52.1 357.4,52.6 358.8,53 360.2,53.5 361.6,54 363.1,54.5 364.5,55 365.9,55.6 367.4,56.2 368.8,56.9 370.2,57.6 371.6,58.4 373,59.2 374.4,60 375.6,61 376.9,62 378.1,63.1 379.4,64.1 380.7,65.1 382,66.2 383.4,67.3 384.4,68.6 385.5,69.9 386.6,71.2 387.7,72.5 388.8,73.8 389.9,75.2 391.1,76.6 392.1,78 393.1,79.5 394.1,81 394.9,82.6 395.5,84.3 396.2,85.9 396.9,87.6 397.4,89.3 397.8,91.1 398.3,92.8 398.7,94.6 399,96.4 399,98.2" fill="#00ff55" stroke="#00ff55" stroke-width="0.4"/>
<polygon points="395.9,100 395.7,101.7 395.5,103.4 395.3,105.1 395.1,106.8 394.8,108.5 394.2,110.2 393.6,111.8 393,113.4 392.4,115 391.8,116.6 391.2,118.1 390.6,119.7 390,121.2 389.1,122.7 388.1,124.1 387.2,125.5 386.2,126.8 385.3,128.2 384.3,129.5 383.4,130.8 382.4,132.1 381.2,133.3 380.1,134.4 378.9,135.5 377.8,136.7 376.7,137.8 375.2,138.6 373.8,139.4 372.4,140.2 371,141 369.6,141.8 368.3,142.5 366.9,143.2 365.6,143.9 364.2,144.5 362.7,145.1 361.4,145.6 360,146.2 358.6,146.7 357.2,147 355.7,147.3 354.2,147.4 352.7,147.6 351.3,147.8 349.8,147.9 348.5,148.1 347.1,148.2 345.7,148.4 344.4,148.5 343,148.7 341.7,148.8 340.4,149 339.1,149.1 337.8,149.3 336.5,149.4 335.2,149.5 333.9,149.5 332.6,149.5 331.3,149.4 330,149.3 328.7,149.3 327.4,149.2 326.1,149.1 324.8,149.1 323.5,149 322.2,149 320.9,148.9 319.6,148.8 318.3,148.8 317,148.7 315.6,148.6 314.2,148.6 312.8,148.5 311.4,148.4 310,148.4 308.5,148.3 307,148.2 305.6,147.8 304.2,147.5 302.8,147.1 301.4,146.7 299.9,146.4 298.4,146 296.9,145.6 295.3,145.2 293.8,144.7 292.2,144.2 290.6,143.7 289.2,143 287.7,142.3 286.3,141.5 284.8,140.7 283.3,139.8 281.9,139 280.4,138.1 278.8,137.2 277.3,136.2 275.7,135.3 274.1,134.3 272.5,133.2 270.8,132.1 269.1,131 267.4,129.9 265.6,128.7 263.9,127.4 262.8,125.8 261.7,124.2 260.6,122.6 259.4,120.9 258.3,119.2 257.4,117.4 256.6,115.6 255.9,113.7 255.1,111.9 254.4,110 254.3,108 254.1,106 254,104 253.8,102 253.7,100 253.5,98 253.4,96 254,94 254.9,92.1 255.8,90.2 256.7,88.4 257.6,86.6 258.6,84.8 259.9,83.2 261.6,81.7 263,80.2 264.4,78.7 265.8,77.3 267.1,75.9 268.4,74.5 269.7,73.1 270.9,71.8 272.3,70.6 273.9,69.6 275.5,68.5 277,67.5 278.5,66.6 280,65.6 281.5,64.7 282.9,63.8 284.3,63 285.6,62.1 287,61.3 288.6,60.7 290.1,60.1 291.6,59.5 293.1,59 294.6,58.5 296,58 297.4,57.5 298.8,57.1 300.2,56.6 301.5,56.2 302.9,55.7 304.2,55.3 305.5,54.9 306.8,54.5 308.1,54.2 309.4,53.8 310.7,53.5 312,53.2 313.3,52.9 314.6,52.6 315.9,52.3 317.1,52 318.4,51.8 319.7,51.6 321,51.4 322.3,51.4 323.6,51.5 324.9,51.7 326.2,51.8 327.5,51.9 328.7,52 330,52.1 331.3,52.2 332.5,52.3 333.7,52.4 335,52.5 336.2,52.6 337.5,52.8 338.7,52.9 340,53.1 341.2,53.3 342.5,53.4 343.8,53.6 345,53.7 346.3,53.9 347.6,54 349,54.2 350.2,54.5 351.5,54.8 352.8,55.2 354.1,55.5 355.5,55.9 356.8,56.3 358.2,56.6 359.6,57 361,57.4 362.4,57.8 363.8,58.3 365.2,58.8 366.6,59.3 368,59.9 369.4,60.6 370.9,61.2 372.3,61.9 373.6,62.8 374.8,63.7 376.1,64.6 377.4,65.6 378.7,66.5 380,67.5 381.4,68.5 382.4,69.8 383.4,71 384.4,72.3 385.4,73.6 386.4,74.9 387.5,76.2 388.5,77.5 389.5,78.9 390.5,80.3 391.5,81.8 392.3,83.3 392.9,84.9 393.5,86.5 394,88.1 394.5,89.8 395,91.4 395.4,93.1 395.9,94.8 396.1,96.5 396,98.3" fill="#00ffaa" stroke="#00ffaa" stroke-width="0.4"/>
<polygon points="256.2,95.5 263,84 273.5,72 289,63 300,60 311,57 321.8,54.5 335,56 350,58.5 360,60.5 370,63.5 379.4,69.8 389.5,83.2 393.4,96 391.8,108 386.4,120.4 379.4,130 373.8,135.4 356.4,144 334.5,147 308.4,145.6 293,140.8 280,133 269,126 262,118 257.5,109.6" fill="#00ffff" stroke="#00ffff" stroke-width="0.4"/>
<polygon points="260,95.5 267,85 277,75 291,67.3 300,64.4 311,61.2 321.8,58.4 332,59.8 345,62 360,65.4 368,68 376.3,73 385.6,84.8 388.7,96 387.2,106.5 381.7,118.8 373.2,130 371.6,132 356.4,140.4 334.5,143 308.4,141.3 293,136.5 277,128.5 270,122 266.3,117 261.3,109.6" fill="#00aaff" stroke="#00aaff" stroke-width="0.4"/>
<polygon points="263.2,95 270.1,86.4 280.2,77.5 287,73.5 294.2,70.8 300,69.3 311,67.5 321.8,66 340,67.8 360,70.9 366,72.8 373.2,76.8 381,86.3 384.4,96 383.3,105 377.9,117.3 370,126.6 367.3,130 354.2,136.5 334.5,138.6 308.4,136.5 293,131 280,122.3 268.6,115.8 264.7,106.5" fill="#0055ff" stroke="#0055ff" stroke-width="0.4"/>
<polygon points="277.9,96 284.1,86.4 295.7,77 303,75.5 340,75.4 361.6,75.5 377.6,96 373.5,107.5 367,117 360.7,120 341,124.5 312.7,124.5 300,122.5 290,119.5 281.8,112.7" fill="#0000ff" stroke="#0000ff" stroke-width="0.4"/>
</g>
<line x1="244.5" y1="29" x2="244.5" y2="222.4" stroke="#8a8a8a" stroke-width="1.0"/>
<line x1="419.8" y1="29" x2="419.8" y2="222.4" stroke="#b9b9b9" stroke-width="1.9"/>
<line x1="236.9" y1="37.2" x2="244" y2="37.2" stroke="#a0a0a0" stroke-width="0.8"/>
<line x1="236.9" y1="213.9" x2="244" y2="213.9" stroke="#a0a0a0" stroke-width="0.8"/>
<rect x="236.9" y="29" width="190.3" height="193.4" fill="none" stroke="#000" stroke-width="1.4" rx="1"/>
<line x1="244" y1="29" x2="244" y2="32.6" stroke="#000" stroke-width="1.1"/>
<line x1="244" y1="222.4" x2="244" y2="219.4" stroke="#000" stroke-width="1.0"/>
<line x1="427.2" y1="37.2" x2="419.6" y2="37.2" stroke="#000" stroke-width="1.1"/>
<line x1="255.7" y1="29" x2="255.7" y2="30.8" stroke="#000" stroke-width="0.8"/>
<line x1="427.2" y1="49" x2="425.4" y2="49" stroke="#000" stroke-width="0.8"/>
<line x1="267.4" y1="29" x2="267.4" y2="30.8" stroke="#000" stroke-width="0.8"/>
<line x1="427.2" y1="60.8" x2="425.4" y2="60.8" stroke="#000" stroke-width="0.8"/>
<line x1="279.1" y1="29" x2="279.1" y2="30.8" stroke="#000" stroke-width="0.8"/>
<line x1="427.2" y1="72.5" x2="425.4" y2="72.5" stroke="#000" stroke-width="0.8"/>
<line x1="290.8" y1="29" x2="290.8" y2="30.8" stroke="#000" stroke-width="0.8"/>
<line x1="427.2" y1="84.3" x2="425.4" y2="84.3" stroke="#000" stroke-width="0.8"/>
<line x1="302.5" y1="29" x2="302.5" y2="36.6" stroke="#000" stroke-width="1.1"/>
<line x1="302.5" y1="222.4" x2="302.5" y2="214" stroke="#2a2a2a" stroke-width="0.9"/>
<line x1="427.2" y1="96.1" x2="419.6" y2="96.1" stroke="#000" stroke-width="1.1"/>
<line x1="242.5" y1="96.1" x2="245" y2="96.1" stroke="#444" stroke-width="0.8"/>
<line x1="314.2" y1="29" x2="314.2" y2="30.8" stroke="#000" stroke-width="0.8"/>
<line x1="427.2" y1="107.9" x2="425.4" y2="107.9" stroke="#000" stroke-width="0.8"/>
<line x1="325.9" y1="29" x2="325.9" y2="30.8" stroke="#000" stroke-width="0.8"/>
<line x1="427.2" y1="119.7" x2="425.4" y2="119.7" stroke="#000" stroke-width="0.8"/>
<line x1="337.6" y1="29" x2="337.6" y2="30.8" stroke="#000" stroke-width="0.8"/>
<line x1="427.2" y1="131.4" x2="425.4" y2="131.4" stroke="#000" stroke-width="0.8"/>
<line x1="349.3" y1="29" x2="349.3" y2="30.8" stroke="#000" stroke-width="0.8"/>
<line x1="427.2" y1="143.2" x2="425.4" y2="143.2" stroke="#000" stroke-width="0.8"/>
<line x1="361" y1="29" x2="361" y2="36.6" stroke="#000" stroke-width="1.1"/>
<line x1="361" y1="222.4" x2="361" y2="214" stroke="#2a2a2a" stroke-width="0.9"/>
<line x1="427.2" y1="155" x2="419.6" y2="155" stroke="#000" stroke-width="1.1"/>
<line x1="242.5" y1="155" x2="245" y2="155" stroke="#444" stroke-width="0.8"/>
<line x1="372.7" y1="29" x2="372.7" y2="30.8" stroke="#000" stroke-width="0.8"/>
<line x1="427.2" y1="166.8" x2="425.4" y2="166.8" stroke="#000" stroke-width="0.8"/>
<line x1="384.4" y1="29" x2="384.4" y2="30.8" stroke="#000" stroke-width="0.8"/>
<line x1="427.2" y1="178.6" x2="425.4" y2="178.6" stroke="#000" stroke-width="0.8"/>
<line x1="396.1" y1="29" x2="396.1" y2="30.8" stroke="#000" stroke-width="0.8"/>
<line x1="427.2" y1="190.3" x2="425.4" y2="190.3" stroke="#000" stroke-width="0.8"/>
<line x1="407.8" y1="29" x2="407.8" y2="30.8" stroke="#000" stroke-width="0.8"/>
<line x1="427.2" y1="202.1" x2="425.4" y2="202.1" stroke="#000" stroke-width="0.8"/>
<line x1="419.5" y1="29" x2="419.5" y2="32.6" stroke="#000" stroke-width="1.1"/>
<line x1="419.5" y1="222.4" x2="419.5" y2="219.4" stroke="#000" stroke-width="1.0"/>
<line x1="427.2" y1="213.9" x2="419.6" y2="213.9" stroke="#000" stroke-width="1.1"/>
</g>
<g id="panel3">
<clipPath id="clip3"><rect x="19.5" y="256.6" width="173.3" height="176.2"/></clipPath>
<g clip-path="url(#clip3)" shape-rendering="geometricPrecision">
<rect x="18.5" y="255.6" width="175.3" height="178.2" fill="#ff0000"/>
<polygon points="-19,318 -15,280 14,257 19.5,251 66,208 107,203 146,211 185.1,256.6 192.7,266.6 211,310 211,365 192.7,400.8 177.5,402.3 163,401.9 155,401 148.5,399.7 141,397.3 133.9,395.4 125,395.3 108,396.1 95,396.7 76.1,396.7 65.9,398.9 51.4,404 36.8,408.4 19.5,410.5 -20,415" fill="#ff5500" stroke="#ff5500" stroke-width="0.4"/>
<polygon points="-14,318 -10,284 19.5,264.2 26.5,256.6 68,213 107,208 143,216 171.2,256.6 192.7,280.6 206,310 206,360 192.7,388.5 179.8,390.4 166.5,392.4 153.3,391.1 140,390.4 125,390.6 108,390.8 90,391.5 75,391.3 55.7,392.8 47,396 36.8,400.4 19.5,402.5 -15,405" fill="#ffaa00" stroke="#ffaa00" stroke-width="0.4"/>
<polygon points="-9,318 -5,288 19.5,274 23.2,270 38.8,256.6 70,218 107,213 140,221 164.9,256.6 170,261.3 179,272 187.8,282 192.7,287.2 201,310 201,355 192.7,377.8 183.8,381.2 170.5,385.8 153.3,387.5 140,387.8 125,387.6 108,387.5 90,388.5 75,388.3 51.4,389.9 36.8,393.1 19.5,395.3 -10,390" fill="#ffff00" stroke="#ffff00" stroke-width="0.4"/>
<polygon points="-4,318 0,292 19.5,278.4 27.6,270 45,256.6 72,223 107,218 137,226 158.4,256.6 164.2,262 170,267.8 177,277 183.8,290 189.8,298 192.7,304.6 196,315 196,350 192.7,367 183.8,373 179,376.5 170.3,380.8 154.3,384.5 140,384.5 125,383.8 108,383 90,384.3 75,385 58.6,385.1 36.8,387.3 19.5,388.7 -5,374" fill="#aaff00" stroke="#aaff00" stroke-width="0.4"/>
<polygon points="1,318 5,296 19.5,283.3 25.8,277.1 33.8,270 49,256.6 74,228 107,223 134,231 152.5,256.6 159.1,262 166.4,269.3 170,273.3 175,281 178.5,290 185.8,300.6 190.4,311.2 191.1,317.9 190.2,329.8 187.2,342 184.5,353.3 177.2,365.2 163.9,375.2 140,380.5 125,380.4 108,379.9 90,381.3 75,382 41.5,382 19.5,382.6 0,358" fill="#55ff00" stroke="#55ff00" stroke-width="0.4"/>
<polygon points="6,318 9,300 19.5,289 28.5,279.7 37.4,272.7 40.5,270 53.4,256.6 76,233 107,228 131,236 146.7,256.6 153.3,262 160.5,269.3 164.9,274 170,281 174.5,290 182.5,300.6 187.5,311.2 188,317.9 186.7,329.8 183,342 179.2,353.3 170.5,365.2 157.3,373.2 140,377.2 125,377.3 108,377 90,378.4 75,379.2 54.8,378.5 34.9,377.2 19.5,374.5 5,350" fill="#00ff00" stroke="#00ff00" stroke-width="0.4"/>
<polygon points="11,318 13,305 19.5,295.7 30.3,285 39.1,277.5 47.1,270 58.5,256.6 78,238 107,233 128,242 138.7,256.6 144.5,261.3 151.8,267.8 157.6,274 165,282 170.5,290 179.2,300.6 184.5,311.2 185.1,317.9 183.5,329.8 179,342 173.9,353.3 163.9,364.6 152,371.2 140,373.9 125,374 108,373.7 90,375.4 75,376.4 52.2,374.8 34.9,371.9 19.5,366.5 10,345" fill="#00ff55" stroke="#00ff55" stroke-width="0.4"/>
<polygon points="16,318 17,310 19.5,302.7 30.3,292.1 39.1,284.2 48,277.1 57,268.5 61,262 65.7,256.6 80,248 100,246 120,256.6 130,259.3 137.3,263.5 144.5,268.5 149.6,274 157,281 166.5,290 175.6,300.6 181.2,311.2 181.8,317.9 179.8,329.8 174,342 167.9,353.3 157.3,363.2 146.6,368.5 140,369.9 125,370.3 108,370.4 90,372.2 75,373.4 48.2,371.2 32.3,366.5 19.5,357.3 15,340" fill="#00ffaa" stroke="#00ffaa" stroke-width="0.4"/>
<polygon points="21,317.8 22.3,310 32,297.4 41.8,287.7 50.6,280.6 57,275.5 62,270.5 72.7,263.4 85.5,260.2 98.2,259.2 110.9,259.3 123.6,262.1 130,263.6 135.1,267.8 140.9,272.2 143.1,274 151.8,281 161.9,290 171.2,300.6 177.2,311.2 177.8,317.9 175.6,329.8 170,342 164,352.5 156,358.5 145,364.5 125,366.8 108,367.2 90,369 75,370.2 57.5,369.2 47.6,367 35.6,361.5 29,354.5 26,348 23,340 21.5,330" fill="#00ffff" stroke="#00ffff" stroke-width="0.4"/>
<polygon points="27.7,315.3 28.5,310 34.7,301 43.5,292.1 52.4,285 57,281.9 60,279.3 72.7,271.6 85.5,266.5 98.2,264.4 110.9,265.1 123.6,268 130,268.7 135.3,271.1 143.1,276 150,283 156.6,290 165.9,300.6 171.9,311.2 172.5,316.5 169.9,329.8 163.5,342 158,351 150,357 140,361 125,362.5 108,363.2 90,365 75,366 64.8,366.4 51.5,362.4 38.3,355.8 31.6,344.5 28.3,329.9" fill="#00aaff" stroke="#00aaff" stroke-width="0.4"/>
<polygon points="33,315.3 34.7,310 40,301.9 48,294.8 57,288.6 64,283 72.7,277.4 85.5,273.5 98.2,271.6 110.9,271.9 123.6,274.8 130,277.4 141.8,283 150,291 158.6,300.6 164.6,311.2 165.2,316.5 162.6,328.5 157,341 151.5,350.6 145,354.5 130,357.5 108,359.3 90,361 75,361.7 64.8,361.1 51.5,356.5 42.3,351.2 36.3,339.2 33.6,325.9" fill="#0055ff" stroke="#0055ff" stroke-width="0.4"/>
<polygon points="39.9,315.3 42,312.5 45.3,310 52.4,303.6 57,300.5 67.8,293 85.5,288.2 98.2,286.9 112,285.9 122,286.9 132,291 140,296.6 148,303.3 154.6,311.2 155.9,316.5 153.9,329.8 148,340.4 142.7,345.8 130,351 115,353.6 95,354.8 78.1,354.5 64.8,349.8 53.5,341.9 46.9,333.2 42.3,323.3" fill="#0000ff" stroke="#0000ff" stroke-width="0.4"/>
</g>
<line x1="18.5" y1="248.6" x2="18.5" y2="441.8" stroke="#8a8a8a" stroke-width="1.0"/>
<line x1="194" y1="248.6" x2="194" y2="441.8" stroke="#b9b9b9" stroke-width="1.9"/>
<line x1="11.2" y1="256.6" x2="18" y2="256.6" stroke="#a0a0a0" stroke-width="0.8"/>
<line x1="11.2" y1="432.8" x2="18" y2="432.8" stroke="#a0a0a0" stroke-width="0.8"/>
<rect x="11.2" y="248.6" width="189.8" height="193.2" fill="none" stroke="#000" stroke-width="1.4" rx="1"/>
<line x1="18" y1="248.6" x2="18" y2="252.2" stroke="#000" stroke-width="1.1"/>
<line x1="18" y1="441.8" x2="18" y2="438.8" stroke="#000" stroke-width="1.0"/>
<line x1="201" y1="256.6" x2="193.4" y2="256.6" stroke="#000" stroke-width="1.1"/>
<line x1="29.7" y1="248.6" x2="29.7" y2="250.4" stroke="#000" stroke-width="0.8"/>
<line x1="201" y1="268.3" x2="199.2" y2="268.3" stroke="#000" stroke-width="0.8"/>
<line x1="41.4" y1="248.6" x2="41.4" y2="250.4" stroke="#000" stroke-width="0.8"/>
<line x1="201" y1="280.1" x2="199.2" y2="280.1" stroke="#000" stroke-width="0.8"/>
<line x1="53.1" y1="248.6" x2="53.1" y2="250.4" stroke="#000" stroke-width="0.8"/>
<line x1="201" y1="291.8" x2="199.2" y2="291.8" stroke="#000" stroke-width="0.8"/>
<line x1="64.9" y1="248.6" x2="64.9" y2="250.4" stroke="#000" stroke-width="0.8"/>
<line x1="201" y1="303.6" x2="199.2" y2="303.6" stroke="#000" stroke-width="0.8"/>
<line x1="76.6" y1="248.6" x2="76.6" y2="256.2" stroke="#000" stroke-width="1.1"/>
<line x1="76.6" y1="441.8" x2="76.6" y2="433.4" stroke="#2a2a2a" stroke-width="0.9"/>
<line x1="201" y1="315.3" x2="193.4" y2="315.3" stroke="#000" stroke-width="1.1"/>
<line x1="16.5" y1="315.3" x2="19" y2="315.3" stroke="#444" stroke-width="0.8"/>
<line x1="88.3" y1="248.6" x2="88.3" y2="250.4" stroke="#000" stroke-width="0.8"/>
<line x1="201" y1="327.1" x2="199.2" y2="327.1" stroke="#000" stroke-width="0.8"/>
<line x1="100" y1="248.6" x2="100" y2="250.4" stroke="#000" stroke-width="0.8"/>
<line x1="201" y1="338.8" x2="199.2" y2="338.8" stroke="#000" stroke-width="0.8"/>
<line x1="111.7" y1="248.6" x2="111.7" y2="250.4" stroke="#000" stroke-width="0.8"/>
<line x1="201" y1="350.6" x2="199.2" y2="350.6" stroke="#000" stroke-width="0.8"/>
<line x1="123.4" y1="248.6" x2="123.4" y2="250.4" stroke="#000" stroke-width="0.8"/>
<line x1="201" y1="362.3" x2="199.2" y2="362.3" stroke="#000" stroke-width="0.8"/>
<line x1="135.1" y1="248.6" x2="135.1" y2="256.2" stroke="#000" stroke-width="1.1"/>
<line x1="135.1" y1="441.8" x2="135.1" y2="433.4" stroke="#2a2a2a" stroke-width="0.9"/>
<line x1="201" y1="374.1" x2="193.4" y2="374.1" stroke="#000" stroke-width="1.1"/>
<line x1="16.5" y1="374.1" x2="19" y2="374.1" stroke="#444" stroke-width="0.8"/>
<line x1="146.8" y1="248.6" x2="146.8" y2="250.4" stroke="#000" stroke-width="0.8"/>
<line x1="201" y1="385.8" x2="199.2" y2="385.8" stroke="#000" stroke-width="0.8"/>
<line x1="158.6" y1="248.6" x2="158.6" y2="250.4" stroke="#000" stroke-width="0.8"/>
<line x1="201" y1="397.6" x2="199.2" y2="397.6" stroke="#000" stroke-width="0.8"/>
<line x1="170.3" y1="248.6" x2="170.3" y2="250.4" stroke="#000" stroke-width="0.8"/>
<line x1="201" y1="409.3" x2="199.2" y2="409.3" stroke="#000" stroke-width="0.8"/>
<line x1="182" y1="248.6" x2="182" y2="250.4" stroke="#000" stroke-width="0.8"/>
<line x1="201" y1="421.1" x2="199.2" y2="421.1" stroke="#000" stroke-width="0.8"/>
<line x1="193.7" y1="248.6" x2="193.7" y2="252.2" stroke="#000" stroke-width="1.1"/>
<line x1="193.7" y1="441.8" x2="193.7" y2="438.8" stroke="#000" stroke-width="1.0"/>
<line x1="201" y1="432.8" x2="193.4" y2="432.8" stroke="#000" stroke-width="1.1"/>
</g>
<g id="panel4">
<clipPath id="clip4"><rect x="245.5" y="257.3" width="173.4" height="175.5"/></clipPath>
<g clip-path="url(#clip4)" shape-rendering="geometricPrecision">
<rect x="244.5" y="256.3" width="175.4" height="177.5" fill="#ff0000"/>
<polygon points="198,330 209,265 236,245 328,176 423,250 451,330 451,385 418.8,421.8 405,419 393.2,415.1 375,410.5 362.7,407.8 352.3,405.4 332.5,406.5 303,409.1 286.7,412.7 274,419.2 260,424 245.5,428.5 196,424" fill="#ff5500" stroke="#ff5500" stroke-width="0.4"/>
<polygon points="203,330 213,270 240,250 328,184 419,255 423,261 446,330 446,380 418.8,409.8 405,408 393.2,405.2 375,400.5 362.7,397.2 332.5,396.5 303,399.8 274,409.1 245.5,418.4 201,416" fill="#ffaa00" stroke="#ffaa00" stroke-width="0.4"/>
<polygon points="208,330 217,275 242,256 246,252 328,192 409.8,257.3 418.8,269.6 441,330 441,375 418.8,401.2 405,400.5 393.2,399.2 375,395.5 362.7,392.6 332.5,391.8 303,395.2 274,403.7 245.5,409.9 206,408" fill="#ffff00" stroke="#ffff00" stroke-width="0.4"/>
<polygon points="213,330 221,280 245.5,261 248.3,257.3 328,200 401.2,257.3 410.4,268.3 416.4,277.6 418.8,283.5 436,330 436,370 418.8,391.2 405,391.5 393.2,391.2 375,389.5 362.7,387.9 332.5,387.2 303,390.6 274,398.3 245.5,403.7 211,400" fill="#aaff00" stroke="#aaff00" stroke-width="0.4"/>
<polygon points="218,330 225,285 245.5,267 253.6,257.3 328,208 395.2,257.3 403.8,268.3 411.8,280.2 416.4,288.2 418.8,294.8 431,330 431,365 418.8,383.3 405,385.5 393.2,386.6 375,385.5 362.7,383.9 332.5,384.1 303,387.5 274,393.7 245.5,399.1 216,392" fill="#55ff00" stroke="#55ff00" stroke-width="0.4"/>
<polygon points="223,330 229,290 245.5,274.9 260.3,257.3 328,216 388.5,257.3 398.5,268.3 406.5,280.2 413.1,290.8 417.1,300.1 418.8,306.8 426,330 426,360 418.8,375.3 405,379.5 393.2,382 375,381.5 362.7,380.6 332.5,381 303,383.6 274,389 245.5,393.7 221,385" fill="#00ff00" stroke="#00ff00" stroke-width="0.4"/>
<polygon points="228,330 233,295 245.5,283.5 266.9,257.3 328,224 381.9,257.3 393.2,268.3 402.5,280.2 409.1,290.8 414.4,301.5 417.1,313 418.8,321 421,335 418.8,346.2 415.8,355.5 409.1,366.1 399.8,373 393.2,376 375,377 362.7,376.6 345,377.5 332.5,377.9 303,379.7 274,383.6 245.5,386.7 226,378" fill="#00ff55" stroke="#00ff55" stroke-width="0.4"/>
<polygon points="233,330 237,300 245.5,290.2 274.2,257.3 328,232 376.6,257.3 387.9,268.3 397.8,280.2 405.1,290.8 411.1,301.5 413.8,314 415.1,326.3 414.4,339.6 411.1,352.8 402.5,363.4 390.5,370.1 385.2,372.5 372,374.5 360,374.5 345,374.2 332.5,374 303,375.8 274,378.9 245.5,381.3 231,370" fill="#00ffaa" stroke="#00ffaa" stroke-width="0.4"/>
<polygon points="238,330 241,305 245.5,296.2 251,292.2 262.9,281.6 273.5,271 281.5,257.3 328,240 371.3,257.3 382.6,268.3 393.2,280.2 401.2,290.8 407.1,301.5 410.4,314 411.1,326.3 410.2,339.6 405.1,352.8 394.5,362.1 379.9,368.8 372,372 360,371.8 345,371 332.5,370.1 303,372 274,374.3 245.5,375.1 236,365" fill="#00ffff" stroke="#00ffff" stroke-width="0.4"/>
<polygon points="243,330 245.5,308.1 254.9,300.1 265.6,289.5 276.2,278.9 286.8,268.3 296.1,257.3 328,249 360.7,257.3 374.6,268.3 386.6,280.2 395.2,290.8 401.2,301.5 405.1,314 405.8,326.3 404.5,339.6 398.5,351.5 387.9,360.1 373.3,366.1 360,369.2 345,367 332.5,365.5 303,368.1 282.8,368.8 264.2,367.4 251,360.8 245.5,358.1" fill="#00aaff" stroke="#00aaff" stroke-width="0.4"/>
<polygon points="252.3,330 254.5,314 260.3,301.5 266.9,293.5 276.2,286.2 286.8,277.6 296.1,268.3 303,263.5 322.9,259.6 342.8,261.6 356.1,266.9 363,271 373.3,278.9 383.9,289.5 391.9,300.1 397.5,314 398.5,326.3 395.8,339.6 389.2,351.5 379.9,358.1 368,363.4 360,365.2 345,363 332.5,361.6 303,364.1 293.4,364.1 276.2,362.1 262.9,356.8 256.3,347.5" fill="#0055ff" stroke="#0055ff" stroke-width="0.4"/>
<polygon points="263.5,318 265.6,313 266.9,310.8 274.9,301.5 285.5,293.5 296.1,286.9 303,282.8 317.6,276.2 340.2,276.2 352.1,282.9 360,286.9 370.6,293.5 379.9,304.1 383.9,314 384.6,326.3 381.2,339.6 374.6,348.8 365.3,355.5 360,357.2 345,356.5 332.5,355.4 303,355.5 288.1,354.2 276.2,348.8 268.2,339.6 264.2,326.3" fill="#0000ff" stroke="#0000ff" stroke-width="0.4"/>
</g>
<line x1="244.5" y1="248.8" x2="244.5" y2="442" stroke="#8a8a8a" stroke-width="1.0"/>
<line x1="420.3" y1="248.8" x2="420.3" y2="442" stroke="#b9b9b9" stroke-width="1.9"/>
<line x1="237.6" y1="257" x2="244.5" y2="257" stroke="#a0a0a0" stroke-width="0.8"/>
<line x1="237.6" y1="432.8" x2="244.5" y2="432.8" stroke="#a0a0a0" stroke-width="0.8"/>
<rect x="237.6" y="248.8" width="189.6" height="193.2" fill="none" stroke="#000" stroke-width="1.4" rx="1"/>
<line x1="244.5" y1="248.8" x2="244.5" y2="252.4" stroke="#000" stroke-width="1.1"/>
<line x1="244.5" y1="442" x2="244.5" y2="439" stroke="#000" stroke-width="1.0"/>
<line x1="427.2" y1="257" x2="419.6" y2="257" stroke="#000" stroke-width="1.1"/>
<line x1="256.2" y1="248.8" x2="256.2" y2="250.6" stroke="#000" stroke-width="0.8"/>
<line x1="427.2" y1="268.7" x2="425.4" y2="268.7" stroke="#000" stroke-width="0.8"/>
<line x1="267.9" y1="248.8" x2="267.9" y2="250.6" stroke="#000" stroke-width="0.8"/>
<line x1="427.2" y1="280.4" x2="425.4" y2="280.4" stroke="#000" stroke-width="0.8"/>
<line x1="279.6" y1="248.8" x2="279.6" y2="250.6" stroke="#000" stroke-width="0.8"/>
<line x1="427.2" y1="292.2" x2="425.4" y2="292.2" stroke="#000" stroke-width="0.8"/>
<line x1="291.3" y1="248.8" x2="291.3" y2="250.6" stroke="#000" stroke-width="0.8"/>
<line x1="427.2" y1="303.9" x2="425.4" y2="303.9" stroke="#000" stroke-width="0.8"/>
<line x1="303" y1="248.8" x2="303" y2="256.4" stroke="#000" stroke-width="1.1"/>
<line x1="303" y1="442" x2="303" y2="433.6" stroke="#2a2a2a" stroke-width="0.9"/>
<line x1="427.2" y1="315.6" x2="419.6" y2="315.6" stroke="#000" stroke-width="1.1"/>
<line x1="243" y1="315.6" x2="245.5" y2="315.6" stroke="#444" stroke-width="0.8"/>
<line x1="314.7" y1="248.8" x2="314.7" y2="250.6" stroke="#000" stroke-width="0.8"/>
<line x1="427.2" y1="327.3" x2="425.4" y2="327.3" stroke="#000" stroke-width="0.8"/>
<line x1="326.4" y1="248.8" x2="326.4" y2="250.6" stroke="#000" stroke-width="0.8"/>
<line x1="427.2" y1="339" x2="425.4" y2="339" stroke="#000" stroke-width="0.8"/>
<line x1="338.1" y1="248.8" x2="338.1" y2="250.6" stroke="#000" stroke-width="0.8"/>
<line x1="427.2" y1="350.8" x2="425.4" y2="350.8" stroke="#000" stroke-width="0.8"/>
<line x1="349.8" y1="248.8" x2="349.8" y2="250.6" stroke="#000" stroke-width="0.8"/>
<line x1="427.2" y1="362.5" x2="425.4" y2="362.5" stroke="#000" stroke-width="0.8"/>
<line x1="361.5" y1="248.8" x2="361.5" y2="256.4" stroke="#000" stroke-width="1.1"/>
<line x1="361.5" y1="442" x2="361.5" y2="433.6" stroke="#2a2a2a" stroke-width="0.9"/>
<line x1="427.2" y1="374.2" x2="419.6" y2="374.2" stroke="#000" stroke-width="1.1"/>
<line x1="243" y1="374.2" x2="245.5" y2="374.2" stroke="#444" stroke-width="0.8"/>
<line x1="373.2" y1="248.8" x2="373.2" y2="250.6" stroke="#000" stroke-width="0.8"/>
<line x1="427.2" y1="385.9" x2="425.4" y2="385.9" stroke="#000" stroke-width="0.8"/>
<line x1="384.9" y1="248.8" x2="384.9" y2="250.6" stroke="#000" stroke-width="0.8"/>
<line x1="427.2" y1="397.6" x2="425.4" y2="397.6" stroke="#000" stroke-width="0.8"/>
<line x1="396.6" y1="248.8" x2="396.6" y2="250.6" stroke="#000" stroke-width="0.8"/>
<line x1="427.2" y1="409.4" x2="425.4" y2="409.4" stroke="#000" stroke-width="0.8"/>
<line x1="408.3" y1="248.8" x2="408.3" y2="250.6" stroke="#000" stroke-width="0.8"/>
<line x1="427.2" y1="421.1" x2="425.4" y2="421.1" stroke="#000" stroke-width="0.8"/>
<line x1="420" y1="248.8" x2="420" y2="252.4" stroke="#000" stroke-width="1.1"/>
<line x1="420" y1="442" x2="420" y2="439" stroke="#000" stroke-width="1.0"/>
<line x1="427.2" y1="432.8" x2="419.6" y2="432.8" stroke="#000" stroke-width="1.1"/>
</g>
<g id="annot1">
<rect x="63.1" y="86.5" width="81.2" height="18.5" fill="none" stroke="#2a00f0" stroke-width="1.3" stroke-dasharray="5.5 3.6"/>
<rect x="62.8" y="144.1" width="82" height="18.5" fill="none" stroke="#250300" stroke-width="1.4" stroke-dasharray="5.8 3.6"/>
<circle cx="75.7" cy="96" r="2.8" fill="none" stroke="#000" stroke-width="1.1"/><circle cx="93.6" cy="96" r="2.8" fill="none" stroke="#000" stroke-width="1.1"/><circle cx="115" cy="96" r="2.8" fill="none" stroke="#000" stroke-width="1.1"/><circle cx="133.4" cy="96" r="2.8" fill="none" stroke="#000" stroke-width="1.1"/>
<circle cx="74.6" cy="153.3" r="2.8" fill="none" stroke="#000" stroke-width="1.1"/><circle cx="93.2" cy="153.3" r="2.8" fill="none" stroke="#000" stroke-width="1.1"/><circle cx="113.9" cy="153.3" r="2.8" fill="none" stroke="#000" stroke-width="1.1"/><circle cx="132.5" cy="153.3" r="2.8" fill="none" stroke="#000" stroke-width="1.1"/>
<text x="74.1" y="48.8" font-size="17" text-anchor="start" font-weight="normal" font-style="normal" fill="#140000" stroke="#140000" stroke-width="0.35">injection point</text>
<text x="79.2" y="196.9" font-size="17" text-anchor="start" font-weight="normal" font-style="normal" fill="#140000" stroke="#140000" stroke-width="0.35">outlet point</text>
<line x1="128.8" y1="56.1" x2="114.2" y2="81.8" stroke="#000" stroke-width="1.8"/><polygon points="112.2,85.3 113.6,76.2 115.7,79.2 119.3,79.5" fill="#000"/>
<line x1="120.5" y1="184.3" x2="109.1" y2="167" stroke="#000" stroke-width="1.8"/><polygon points="106.9,163.7 114.4,169.1 110.8,169.5 108.9,172.7" fill="#000"/>
</g>
<g id="annot2">
<circle cx="302.5" cy="96.7" r="2.8" fill="none" stroke="#000" stroke-width="1.1"/><circle cx="320.8" cy="96.7" r="2.8" fill="none" stroke="#000" stroke-width="1.1"/><circle cx="342.2" cy="96.7" r="2.8" fill="none" stroke="#000" stroke-width="1.1"/><circle cx="360.3" cy="96.7" r="2.8" fill="none" stroke="#000" stroke-width="1.1"/>
<circle cx="302.5" cy="153.9" r="2.8" fill="none" stroke="#000" stroke-width="1.1"/><circle cx="320.8" cy="153.9" r="2.8" fill="none" stroke="#000" stroke-width="1.1"/><circle cx="342.2" cy="153.9" r="2.8" fill="none" stroke="#000" stroke-width="1.1"/><circle cx="360.3" cy="153.9" r="2.8" fill="none" stroke="#000" stroke-width="1.1"/>
<path d="M302.5 97 C285 110 287 135 301.2 152" fill="none" stroke="#000" stroke-width="1.6"/><polygon points="301.2,152 290.7,145.6 295.7,144.5 298.3,140.1" fill="#000"/>
<path d="M320.8 97 C306 110 307 135 319.5 152" fill="none" stroke="#000" stroke-width="1.6"/><polygon points="319.5,152 309.5,145 314.5,144.2 317.4,139.9" fill="#000"/>
<path d="M342.2 97 C356 110 356.5 135 343.2 152.2" fill="none" stroke="#000" stroke-width="1.6"/><polygon points="343.2,152.2 345.5,140.2 348.4,144.5 353.4,145.4" fill="#000"/>
<path d="M360.3 97 C378 110 378 135 361.4 152.2" fill="none" stroke="#000" stroke-width="1.6"/><polygon points="361.4,152.2 365,140.5 367.4,145.1 372.2,146.5" fill="#000"/>
</g>
<g id="annot3">
<circle cx="79.1" cy="315.1" r="2.8" fill="none" stroke="#000" stroke-width="1.1"/><circle cx="97.1" cy="315.1" r="2.8" fill="none" stroke="#000" stroke-width="1.1"/><circle cx="118.3" cy="315.1" r="2.8" fill="none" stroke="#000" stroke-width="1.1"/><circle cx="136.3" cy="315.1" r="2.8" fill="none" stroke="#000" stroke-width="1.1"/>
<circle cx="78.9" cy="372.1" r="2.8" fill="none" stroke="#000" stroke-width="1.1"/><circle cx="96.7" cy="372.1" r="2.8" fill="none" stroke="#000" stroke-width="1.1"/><circle cx="117.8" cy="372.1" r="2.8" fill="none" stroke="#000" stroke-width="1.1"/><circle cx="136.5" cy="372.1" r="2.8" fill="none" stroke="#000" stroke-width="1.1"/>
<path d="M77.5 316.3 C41.4 325.9 35.9 350.7 76.5 371" fill="none" stroke="#000" stroke-width="1.6"/><polygon points="76.5,371 64.4,369.5 68.4,366.4 69,361.3" fill="#000"/>
<path d="M95.7 316.3 C66.1 327.3 59.9 353.3 94.7 371" fill="none" stroke="#000" stroke-width="1.6"/><polygon points="94.7,371 82.6,369.2 86.7,366.2 87.4,361.2" fill="#000"/>
<path d="M119.8 316.3 C141.5 324.7 162 350.8 120.8 371" fill="none" stroke="#000" stroke-width="1.6"/><polygon points="120.8,371 128.2,361.2 128.8,366.3 132.9,369.3" fill="#000"/>
<path d="M137.8 316 C167.5 323.8 197.6 354.4 139.5 371" fill="none" stroke="#000" stroke-width="1.6"/><polygon points="139.5,371 148.5,362.7 148.2,367.8 151.7,371.6" fill="#000"/>
</g>
<g id="annot4">
<circle cx="304.1" cy="315.1" r="2.8" fill="none" stroke="#000" stroke-width="1.1"/><circle cx="322.1" cy="315.1" r="2.8" fill="none" stroke="#000" stroke-width="1.1"/><circle cx="343.5" cy="315.1" r="2.8" fill="none" stroke="#000" stroke-width="1.1"/><circle cx="361.5" cy="315.1" r="2.8" fill="none" stroke="#000" stroke-width="1.1"/>
<circle cx="303.4" cy="372.1" r="2.8" fill="none" stroke="#000" stroke-width="1.1"/><circle cx="322" cy="372.1" r="2.8" fill="none" stroke="#000" stroke-width="1.1"/><circle cx="343.3" cy="372.1" r="2.8" fill="none" stroke="#000" stroke-width="1.1"/><circle cx="361.8" cy="372.1" r="2.8" fill="none" stroke="#000" stroke-width="1.1"/>
<path d="M302.5 316.5 C263.5 331.5 255.6 355.6 301.3 371" fill="none" stroke="#000" stroke-width="1.6"/><polygon points="301.3,371 289.1,371.2 292.7,367.5 292.6,362.4" fill="#000"/>
<path d="M320.5 316.5 C289.9 337.9 271.2 356.1 319.5 371" fill="none" stroke="#000" stroke-width="1.6"/><polygon points="319.5,371 307.3,371.5 310.8,367.8 310.5,362.7" fill="#000"/>
<path d="M345 316.5 C378.5 335.3 386.2 359.6 345.7 371" fill="none" stroke="#000" stroke-width="1.6"/><polygon points="345.7,371 354.8,362.8 354.5,367.9 357.9,371.7" fill="#000"/>
<path d="M363 316 C401.3 329.2 432.2 364.4 364.2 371.3" fill="none" stroke="#000" stroke-width="1.6"/><polygon points="364.2,371.3 374.6,364.8 373.4,369.8 376.1,374.1" fill="#000"/>
</g>
<g id="labels">
<text x="21.8" y="20" font-size="13.6" text-anchor="middle" font-weight="normal" font-style="normal" fill="#000" letter-spacing="0.4" stroke="#000" stroke-width="0.45">0</text>
<text x="76.9" y="20" font-size="13.6" text-anchor="middle" font-weight="normal" font-style="normal" fill="#000" letter-spacing="0.4" stroke="#000" stroke-width="0.45">100</text>
<text x="130.7" y="20" font-size="13.6" text-anchor="middle" font-weight="normal" font-style="normal" fill="#000" letter-spacing="0.4" stroke="#000" stroke-width="0.45">200</text>
<text x="187.7" y="20" font-size="13.6" text-anchor="middle" font-weight="normal" font-style="normal" fill="#000" letter-spacing="0.4" stroke="#000" stroke-width="0.45">300</text>
<text x="92" y="15.6" font-size="13.8" text-anchor="start" font-weight="normal" font-style="normal" fill="#000"><tspan font-style="italic" font-weight="bold" stroke="#000" stroke-width="0.3">X</tspan><tspan font-size="13.600000000000001" stroke="#000" stroke-width="0.25">(m)</tspan></text>
<text x="250.6" y="20" font-size="13.6" text-anchor="middle" font-weight="normal" font-style="normal" fill="#000" letter-spacing="0.4" stroke="#000" stroke-width="0.45">0</text>
<text x="305.9" y="20" font-size="13.6" text-anchor="middle" font-weight="normal" font-style="normal" fill="#000" letter-spacing="0.4" stroke="#000" stroke-width="0.45">100</text>
<text x="360.2" y="20" font-size="13.6" text-anchor="middle" font-weight="normal" font-style="normal" fill="#000" letter-spacing="0.4" stroke="#000" stroke-width="0.45">200</text>
<text x="416.2" y="20" font-size="13.6" text-anchor="middle" font-weight="normal" font-style="normal" fill="#000" letter-spacing="0.4" stroke="#000" stroke-width="0.45">300</text>
<text x="320.2" y="15.6" font-size="13.8" text-anchor="start" font-weight="normal" font-style="normal" fill="#000"><tspan font-style="italic" font-weight="bold" stroke="#000" stroke-width="0.3">X</tspan><tspan font-size="13.600000000000001" stroke="#000" stroke-width="0.25">(m)</tspan></text>
<text x="22" y="244" font-size="13.6" text-anchor="middle" font-weight="normal" font-style="normal" fill="#000" letter-spacing="0.4" stroke="#000" stroke-width="0.45">0</text>
<text x="76.9" y="244" font-size="13.6" text-anchor="middle" font-weight="normal" font-style="normal" fill="#000" letter-spacing="0.4" stroke="#000" stroke-width="0.45">100</text>
<text x="130.7" y="244" font-size="13.6" text-anchor="middle" font-weight="normal" font-style="normal" fill="#000" letter-spacing="0.4" stroke="#000" stroke-width="0.45">200</text>
<text x="187.7" y="244" font-size="13.6" text-anchor="middle" font-weight="normal" font-style="normal" fill="#000" letter-spacing="0.4" stroke="#000" stroke-width="0.45">300</text>
<text x="92" y="239.2" font-size="13.8" text-anchor="start" font-weight="normal" font-style="normal" fill="#000"><tspan font-style="italic" font-weight="bold" stroke="#000" stroke-width="0.3">X</tspan><tspan font-size="13.600000000000001" stroke="#000" stroke-width="0.25">(m)</tspan></text>
<text x="250.6" y="239" font-size="13.6" text-anchor="middle" font-weight="normal" font-style="normal" fill="#000" letter-spacing="0.4" stroke="#000" stroke-width="0.45">0</text>
<text x="305.6" y="239" font-size="13.6" text-anchor="middle" font-weight="normal" font-style="normal" fill="#000" letter-spacing="0.4" stroke="#000" stroke-width="0.45">100</text>
<text x="360.2" y="239" font-size="13.6" text-anchor="middle" font-weight="normal" font-style="normal" fill="#000" letter-spacing="0.4" stroke="#000" stroke-width="0.45">200</text>
<text x="416.2" y="239" font-size="13.6" text-anchor="middle" font-weight="normal" font-style="normal" fill="#000" letter-spacing="0.4" stroke="#000" stroke-width="0.45">300</text>
<text x="320" y="234.2" font-size="13.8" text-anchor="start" font-weight="normal" font-style="normal" fill="#000"><tspan font-style="italic" font-weight="bold" stroke="#000" stroke-width="0.3">X</tspan><tspan font-size="13.600000000000001" stroke="#000" stroke-width="0.25">(m)</tspan></text>
<text x="0" y="0" transform="translate(203.9,35.6) rotate(90)" font-size="13.8" text-anchor="middle" font-weight="normal" font-style="normal" fill="#000" letter-spacing="0.4" stroke="#000" stroke-width="0.45">0</text>
<text x="0" y="0" transform="translate(206.1,89.9) rotate(90)" font-size="13.4" text-anchor="middle" font-weight="normal" font-style="normal" fill="#000" letter-spacing="0.4" stroke="#000" stroke-width="0.45">100</text>
<text x="0" y="0" transform="translate(206.1,145.3) rotate(90)" font-size="13.4" text-anchor="middle" font-weight="normal" font-style="normal" fill="#000" letter-spacing="0.4" stroke="#000" stroke-width="0.45">200</text>
<text x="0" y="0" transform="translate(206.1,202.5) rotate(90)" font-size="13.4" text-anchor="middle" font-weight="normal" font-style="normal" fill="#000" letter-spacing="0.4" stroke="#000" stroke-width="0.45">300</text>
<text x="0" y="0" transform="translate(213.9,99.9) rotate(90)" font-size="14.5" text-anchor="start" font-weight="normal" font-style="normal" fill="#000"><tspan font-style="italic" font-weight="bold" stroke="#000" stroke-width="0.3">Z</tspan> <tspan font-size="14.3" stroke="#000" stroke-width="0.25">(m)</tspan></text>
<text x="0" y="0" transform="translate(431.7,35.3) rotate(90)" font-size="13.8" text-anchor="middle" font-weight="normal" font-style="normal" fill="#000" letter-spacing="0.4" stroke="#000" stroke-width="0.45">0</text>
<text x="0" y="0" transform="translate(433.9,89.9) rotate(90)" font-size="13.4" text-anchor="middle" font-weight="normal" font-style="normal" fill="#000" letter-spacing="0.4" stroke="#000" stroke-width="0.45">100</text>
<text x="0" y="0" transform="translate(433.9,145.5) rotate(90)" font-size="13.4" text-anchor="middle" font-weight="normal" font-style="normal" fill="#000" letter-spacing="0.4" stroke="#000" stroke-width="0.45">200</text>
<text x="0" y="0" transform="translate(433.9,202.5) rotate(90)" font-size="13.4" text-anchor="middle" font-weight="normal" font-style="normal" fill="#000" letter-spacing="0.4" stroke="#000" stroke-width="0.45">300</text>
<text x="0" y="0" transform="translate(440.6,99.9) rotate(90)" font-size="14.5" text-anchor="start" font-weight="normal" font-style="normal" fill="#000"><tspan font-style="italic" font-weight="bold" stroke="#000" stroke-width="0.3">Z</tspan> <tspan font-size="14.3" stroke="#000" stroke-width="0.25">(m)</tspan></text>
<text x="0" y="0" transform="translate(204.3,259.5) rotate(90)" font-size="13.8" text-anchor="middle" font-weight="normal" font-style="normal" fill="#000" letter-spacing="0.4" stroke="#000" stroke-width="0.45">0</text>
<text x="0" y="0" transform="translate(206.5,313.5) rotate(90)" font-size="13.4" text-anchor="middle" font-weight="normal" font-style="normal" fill="#000" letter-spacing="0.4" stroke="#000" stroke-width="0.45">100</text>
<text x="0" y="0" transform="translate(206.5,368.9) rotate(90)" font-size="13.4" text-anchor="middle" font-weight="normal" font-style="normal" fill="#000" letter-spacing="0.4" stroke="#000" stroke-width="0.45">200</text>
<text x="0" y="0" transform="translate(206.5,426) rotate(90)" font-size="13.4" text-anchor="middle" font-weight="normal" font-style="normal" fill="#000" letter-spacing="0.4" stroke="#000" stroke-width="0.45">300</text>
<text x="0" y="0" transform="translate(215.3,323.9) rotate(90)" font-size="14.5" text-anchor="start" font-weight="normal" font-style="normal" fill="#000"><tspan font-style="italic" font-weight="bold" stroke="#000" stroke-width="0.3">Z</tspan> <tspan font-size="14.3" stroke="#000" stroke-width="0.25">(m)</tspan></text>
<text x="0" y="0" transform="translate(431.7,254.5) rotate(90)" font-size="13.8" text-anchor="middle" font-weight="normal" font-style="normal" fill="#000" letter-spacing="0.4" stroke="#000" stroke-width="0.45">0</text>
<text x="0" y="0" transform="translate(433.9,309.4) rotate(90)" font-size="13.4" text-anchor="middle" font-weight="normal" font-style="normal" fill="#000" letter-spacing="0.4" stroke="#000" stroke-width="0.45">100</text>
<text x="0" y="0" transform="translate(433.9,365) rotate(90)" font-size="13.4" text-anchor="middle" font-weight="normal" font-style="normal" fill="#000" letter-spacing="0.4" stroke="#000" stroke-width="0.45">200</text>
<text x="0" y="0" transform="translate(433.9,421.5) rotate(90)" font-size="13.4" text-anchor="middle" font-weight="normal" font-style="normal" fill="#000" letter-spacing="0.4" stroke="#000" stroke-width="0.45">300</text>
<text x="0" y="0" transform="translate(440.6,320) rotate(90)" font-size="14.5" text-anchor="start" font-weight="normal" font-style="normal" fill="#000"><tspan font-style="italic" font-weight="bold" stroke="#000" stroke-width="0.3">Z</tspan> <tspan font-size="14.3" stroke="#000" stroke-width="0.25">(m)</tspan></text>
</g>
<g id="axes">
<rect x="480.3" y="123.7" width="15.1" height="13.3" fill="none" stroke="#8a8a8a" stroke-width="0.9"/>
<path d="M480.3 89.9 V137 H527.9" fill="none" stroke="#000" stroke-width="1.8"/>
<text x="481.2" y="87.2" font-size="15.4" text-anchor="middle" font-weight="bold" font-style="italic" fill="#000" stroke="#000" stroke-width="0.4">Z</text>
<text x="539.9" y="142.2" font-size="15.4" text-anchor="middle" font-weight="bold" font-style="italic" fill="#000" stroke="#000" stroke-width="0.4">X</text>
</g>
<g id="legend">
<rect x="478.5" y="157.3" width="57.3" height="199.6" fill="#fff" stroke="#000" stroke-width="1.5"/>
<text x="496.2" y="172.9" font-size="14" text-anchor="start" font-weight="bold" font-style="normal" fill="#000" stroke="#000" stroke-width="0.2"><tspan font-style="italic">T</tspan>(°C)</text>
<rect x="484.8" y="179.2" width="17.8" height="7.7" fill="#ff0000"/>
<rect x="484.8" y="186.6" width="17.8" height="14.6" fill="#ff5500"/>
<rect x="484.8" y="200.9" width="17.8" height="14.6" fill="#ffaa00"/>
<rect x="484.8" y="215.1" width="17.8" height="14.6" fill="#ffff00"/>
<rect x="484.8" y="229.4" width="17.8" height="14.6" fill="#aaff00"/>
<rect x="484.8" y="243.6" width="17.8" height="14.6" fill="#55ff00"/>
<rect x="484.8" y="257.9" width="17.8" height="14.6" fill="#00ff00"/>
<rect x="484.8" y="272.2" width="17.8" height="14.6" fill="#00ff55"/>
<rect x="484.8" y="286.4" width="17.8" height="14.6" fill="#00ffaa"/>
<rect x="484.8" y="300.7" width="17.8" height="14.6" fill="#00ffff"/>
<rect x="484.8" y="314.9" width="17.8" height="14.6" fill="#00aaff"/>
<rect x="484.8" y="329.2" width="17.8" height="14.6" fill="#0055ff"/>
<rect x="484.8" y="343.5" width="17.8" height="8.1" fill="#0000ff"/>
<line x1="484.8" y1="186.6" x2="502.6" y2="186.6" stroke="#202020" stroke-width="0.5"/>
<line x1="484.8" y1="200.9" x2="502.6" y2="200.9" stroke="#202020" stroke-width="0.5"/>
<line x1="484.8" y1="215.1" x2="502.6" y2="215.1" stroke="#202020" stroke-width="0.5"/>
<line x1="484.8" y1="229.4" x2="502.6" y2="229.4" stroke="#202020" stroke-width="0.5"/>
<line x1="484.8" y1="243.6" x2="502.6" y2="243.6" stroke="#202020" stroke-width="0.5"/>
<line x1="484.8" y1="257.9" x2="502.6" y2="257.9" stroke="#202020" stroke-width="0.5"/>
<line x1="484.8" y1="272.2" x2="502.6" y2="272.2" stroke="#202020" stroke-width="0.5"/>
<line x1="484.8" y1="286.4" x2="502.6" y2="286.4" stroke="#202020" stroke-width="0.5"/>
<line x1="484.8" y1="300.7" x2="502.6" y2="300.7" stroke="#202020" stroke-width="0.5"/>
<line x1="484.8" y1="314.9" x2="502.6" y2="314.9" stroke="#202020" stroke-width="0.5"/>
<line x1="484.8" y1="329.2" x2="502.6" y2="329.2" stroke="#202020" stroke-width="0.5"/>
<line x1="484.8" y1="343.5" x2="502.6" y2="343.5" stroke="#202020" stroke-width="0.5"/>
<text x="515.3" y="191.3" font-size="14.3" text-anchor="middle" font-weight="normal" font-style="normal" fill="#000" stroke="#000" stroke-width="0.35">160</text>
<text x="515.3" y="205.6" font-size="14.3" text-anchor="middle" font-weight="normal" font-style="normal" fill="#000" stroke="#000" stroke-width="0.35">150</text>
<text x="515.3" y="219.8" font-size="14.3" text-anchor="middle" font-weight="normal" font-style="normal" fill="#000" stroke="#000" stroke-width="0.35">140</text>
<text x="515.3" y="234.1" font-size="14.3" text-anchor="middle" font-weight="normal" font-style="normal" fill="#000" stroke="#000" stroke-width="0.35">130</text>
<text x="515.3" y="248.3" font-size="14.3" text-anchor="middle" font-weight="normal" font-style="normal" fill="#000" stroke="#000" stroke-width="0.35">120</text>
<text x="515.3" y="262.6" font-size="14.3" text-anchor="middle" font-weight="normal" font-style="normal" fill="#000" stroke="#000" stroke-width="0.35">110</text>
<text x="515.3" y="276.9" font-size="14.3" text-anchor="middle" font-weight="normal" font-style="normal" fill="#000" stroke="#000" stroke-width="0.35">100</text>
<text x="515.3" y="291.1" font-size="14.3" text-anchor="middle" font-weight="normal" font-style="normal" fill="#000" stroke="#000" stroke-width="0.35">90</text>
<text x="515.3" y="305.4" font-size="14.3" text-anchor="middle" font-weight="normal" font-style="normal" fill="#000" stroke="#000" stroke-width="0.35">80</text>
<text x="515.3" y="319.6" font-size="14.3" text-anchor="middle" font-weight="normal" font-style="normal" fill="#000" stroke="#000" stroke-width="0.35">70</text>
<text x="515.3" y="333.9" font-size="14.3" text-anchor="middle" font-weight="normal" font-style="normal" fill="#000" stroke="#000" stroke-width="0.35">60</text>
<text x="515.3" y="348.2" font-size="14.3" text-anchor="middle" font-weight="normal" font-style="normal" fill="#000" stroke="#000" stroke-width="0.35">50</text>
</g>
</svg>
</body></html>
